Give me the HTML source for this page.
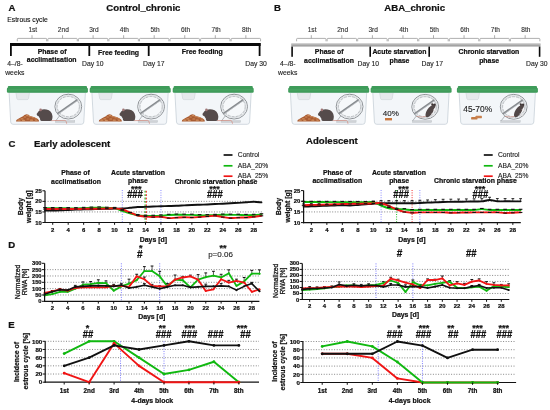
<!DOCTYPE html>
<html><head><meta charset="utf-8"><style>
html,body{margin:0;padding:0;background:#fff;width:550px;height:410px;overflow:hidden;}
svg{display:block;will-change:transform;}
</style></head><body>
<svg width="550" height="410" viewBox="0 0 550 410" font-family='"Liberation Sans", sans-serif'>
<rect width="550" height="410" fill="#fff"/>
<text x="8.60" y="10.90" font-size="9.6" font-weight="bold" text-anchor="start" fill="#111" stroke="#111" stroke-width="0.22" >A</text>
<text x="143.40" y="10.80" font-size="9.6" font-weight="bold" text-anchor="middle" fill="#111" stroke="#111" stroke-width="0.22" >Control_chronic</text>
<text x="274.00" y="10.80" font-size="9.6" font-weight="bold" text-anchor="start" fill="#111" stroke="#111" stroke-width="0.22" >B</text>
<text x="414.70" y="11.30" font-size="9.6" font-weight="bold" text-anchor="middle" fill="#111" stroke="#111" stroke-width="0.22" >ABA_chronic</text>
<text x="7.30" y="21.50" font-size="6.8" font-weight="normal" text-anchor="start" fill="#111" stroke="#111" stroke-width="0.12" >Estrous cycle</text>
<path d="M17.30,41.3 L17.30,39.2 Q17.30,38.4 18.10,38.4 L45.90,38.4 Q46.70,38.4 46.70,39.2 L46.70,41.3 M32.00,38.4 L32.00,35.2" fill="none" stroke="#9a9a9a" stroke-width="0.8"/>
<text x="32.80" y="32.00" font-size="6.6" font-weight="normal" text-anchor="middle" fill="#333" stroke="#333" stroke-width="0.12" >1st</text>
<path d="M47.85,41.3 L47.85,39.2 Q47.85,38.4 48.65,38.4 L76.45,38.4 Q77.25,38.4 77.25,39.2 L77.25,41.3 M62.55,38.4 L62.55,35.2" fill="none" stroke="#9a9a9a" stroke-width="0.8"/>
<text x="63.35" y="32.00" font-size="6.6" font-weight="normal" text-anchor="middle" fill="#333" stroke="#333" stroke-width="0.12" >2nd</text>
<path d="M78.40,41.3 L78.40,39.2 Q78.40,38.4 79.20,38.4 L107.00,38.4 Q107.80,38.4 107.80,39.2 L107.80,41.3 M93.10,38.4 L93.10,35.2" fill="none" stroke="#9a9a9a" stroke-width="0.8"/>
<text x="93.90" y="32.00" font-size="6.6" font-weight="normal" text-anchor="middle" fill="#333" stroke="#333" stroke-width="0.12" >3rd</text>
<path d="M108.95,41.3 L108.95,39.2 Q108.95,38.4 109.75,38.4 L137.55,38.4 Q138.35,38.4 138.35,39.2 L138.35,41.3 M123.65,38.4 L123.65,35.2" fill="none" stroke="#9a9a9a" stroke-width="0.8"/>
<text x="124.45" y="32.00" font-size="6.6" font-weight="normal" text-anchor="middle" fill="#333" stroke="#333" stroke-width="0.12" >4th</text>
<path d="M139.50,41.3 L139.50,39.2 Q139.50,38.4 140.30,38.4 L168.10,38.4 Q168.90,38.4 168.90,39.2 L168.90,41.3 M154.20,38.4 L154.20,35.2" fill="none" stroke="#9a9a9a" stroke-width="0.8"/>
<text x="155.00" y="32.00" font-size="6.6" font-weight="normal" text-anchor="middle" fill="#333" stroke="#333" stroke-width="0.12" >5th</text>
<path d="M170.05,41.3 L170.05,39.2 Q170.05,38.4 170.85,38.4 L198.65,38.4 Q199.45,38.4 199.45,39.2 L199.45,41.3 M184.75,38.4 L184.75,35.2" fill="none" stroke="#9a9a9a" stroke-width="0.8"/>
<text x="185.55" y="32.00" font-size="6.6" font-weight="normal" text-anchor="middle" fill="#333" stroke="#333" stroke-width="0.12" >6th</text>
<path d="M200.60,41.3 L200.60,39.2 Q200.60,38.4 201.40,38.4 L229.20,38.4 Q230.00,38.4 230.00,39.2 L230.00,41.3 M215.30,38.4 L215.30,35.2" fill="none" stroke="#9a9a9a" stroke-width="0.8"/>
<text x="216.10" y="32.00" font-size="6.6" font-weight="normal" text-anchor="middle" fill="#333" stroke="#333" stroke-width="0.12" >7th</text>
<path d="M231.15,41.3 L231.15,39.2 Q231.15,38.4 231.95,38.4 L259.75,38.4 Q260.55,38.4 260.55,39.2 L260.55,41.3 M245.85,38.4 L245.85,35.2" fill="none" stroke="#9a9a9a" stroke-width="0.8"/>
<text x="246.65" y="32.00" font-size="6.6" font-weight="normal" text-anchor="middle" fill="#333" stroke="#333" stroke-width="0.12" >8th</text>
<path d="M296.60,41.3 L296.60,39.2 Q296.60,38.4 297.40,38.4 L325.20,38.4 Q326.00,38.4 326.00,39.2 L326.00,41.3 M311.30,38.4 L311.30,35.2" fill="none" stroke="#9a9a9a" stroke-width="0.8"/>
<text x="312.10" y="32.00" font-size="6.6" font-weight="normal" text-anchor="middle" fill="#333" stroke="#333" stroke-width="0.12" >1st</text>
<path d="M327.15,41.3 L327.15,39.2 Q327.15,38.4 327.95,38.4 L355.75,38.4 Q356.55,38.4 356.55,39.2 L356.55,41.3 M341.85,38.4 L341.85,35.2" fill="none" stroke="#9a9a9a" stroke-width="0.8"/>
<text x="342.65" y="32.00" font-size="6.6" font-weight="normal" text-anchor="middle" fill="#333" stroke="#333" stroke-width="0.12" >2nd</text>
<path d="M357.70,41.3 L357.70,39.2 Q357.70,38.4 358.50,38.4 L386.30,38.4 Q387.10,38.4 387.10,39.2 L387.10,41.3 M372.40,38.4 L372.40,35.2" fill="none" stroke="#9a9a9a" stroke-width="0.8"/>
<text x="373.20" y="32.00" font-size="6.6" font-weight="normal" text-anchor="middle" fill="#333" stroke="#333" stroke-width="0.12" >3rd</text>
<path d="M388.25,41.3 L388.25,39.2 Q388.25,38.4 389.05,38.4 L416.85,38.4 Q417.65,38.4 417.65,39.2 L417.65,41.3 M402.95,38.4 L402.95,35.2" fill="none" stroke="#9a9a9a" stroke-width="0.8"/>
<text x="403.75" y="32.00" font-size="6.6" font-weight="normal" text-anchor="middle" fill="#333" stroke="#333" stroke-width="0.12" >4th</text>
<path d="M418.80,41.3 L418.80,39.2 Q418.80,38.4 419.60,38.4 L447.40,38.4 Q448.20,38.4 448.20,39.2 L448.20,41.3 M433.50,38.4 L433.50,35.2" fill="none" stroke="#9a9a9a" stroke-width="0.8"/>
<text x="434.30" y="32.00" font-size="6.6" font-weight="normal" text-anchor="middle" fill="#333" stroke="#333" stroke-width="0.12" >5th</text>
<path d="M449.35,41.3 L449.35,39.2 Q449.35,38.4 450.15,38.4 L477.95,38.4 Q478.75,38.4 478.75,39.2 L478.75,41.3 M464.05,38.4 L464.05,35.2" fill="none" stroke="#9a9a9a" stroke-width="0.8"/>
<text x="464.85" y="32.00" font-size="6.6" font-weight="normal" text-anchor="middle" fill="#333" stroke="#333" stroke-width="0.12" >6th</text>
<path d="M479.90,41.3 L479.90,39.2 Q479.90,38.4 480.70,38.4 L508.50,38.4 Q509.30,38.4 509.30,39.2 L509.30,41.3 M494.60,38.4 L494.60,35.2" fill="none" stroke="#9a9a9a" stroke-width="0.8"/>
<text x="495.40" y="32.00" font-size="6.6" font-weight="normal" text-anchor="middle" fill="#333" stroke="#333" stroke-width="0.12" >7th</text>
<path d="M510.45,41.3 L510.45,39.2 Q510.45,38.4 511.25,38.4 L539.05,38.4 Q539.85,38.4 539.85,39.2 L539.85,41.3 M525.15,38.4 L525.15,35.2" fill="none" stroke="#9a9a9a" stroke-width="0.8"/>
<text x="525.95" y="32.00" font-size="6.6" font-weight="normal" text-anchor="middle" fill="#333" stroke="#333" stroke-width="0.12" >8th</text>
<rect x="10" y="43" width="250.6" height="3" fill="#0a0a0a"/>
<rect x="10.00" y="43" width="1.8" height="13" fill="#0a0a0a"/>
<rect x="88.40" y="43" width="1.8" height="13" fill="#0a0a0a"/>
<rect x="147.80" y="43" width="1.8" height="13" fill="#0a0a0a"/>
<rect x="258.70" y="43" width="1.8" height="13" fill="#0a0a0a"/>
<rect x="291.3" y="43.6" width="249.2" height="3" fill="#a3a3a3"/>
<rect x="291.3" y="43.6" width="249.2" height="1" fill="#c4c4c4"/>
<rect x="291.30" y="46.6" width="1.6" height="10.2" fill="#0a0a0a"/>
<rect x="369.40" y="46.6" width="1.6" height="10.2" fill="#0a0a0a"/>
<rect x="428.40" y="46.6" width="1.6" height="10.2" fill="#0a0a0a"/>
<rect x="538.80" y="46.6" width="1.6" height="10.2" fill="#0a0a0a"/>
<text x="52.10" y="53.50" font-size="6.9" font-weight="bold" text-anchor="middle" fill="#111" stroke="#111" stroke-width="0.22" >Phase of</text>
<text x="51.70" y="62.10" font-size="6.9" font-weight="bold" text-anchor="middle" fill="#111" stroke="#111" stroke-width="0.22" >acclimatisation</text>
<text x="118.60" y="55.40" font-size="6.9" font-weight="bold" text-anchor="middle" fill="#111" stroke="#111" stroke-width="0.22" >Free feeding</text>
<text x="202.30" y="53.50" font-size="6.9" font-weight="bold" text-anchor="middle" fill="#111" stroke="#111" stroke-width="0.22" >Free feeding</text>
<text x="329.20" y="54.00" font-size="6.9" font-weight="bold" text-anchor="middle" fill="#111" stroke="#111" stroke-width="0.22" >Phase of</text>
<text x="329.00" y="62.70" font-size="6.9" font-weight="bold" text-anchor="middle" fill="#111" stroke="#111" stroke-width="0.22" >acclimatisation</text>
<text x="399.40" y="53.80" font-size="6.9" font-weight="bold" text-anchor="middle" fill="#111" stroke="#111" stroke-width="0.22" >Acute starvation</text>
<text x="399.50" y="62.70" font-size="6.9" font-weight="bold" text-anchor="middle" fill="#111" stroke="#111" stroke-width="0.22" >phase</text>
<text x="488.90" y="54.00" font-size="6.9" font-weight="bold" text-anchor="middle" fill="#111" stroke="#111" stroke-width="0.22" >Chronic starvation</text>
<text x="489.10" y="62.70" font-size="6.9" font-weight="bold" text-anchor="middle" fill="#111" stroke="#111" stroke-width="0.22" >phase</text>
<text x="7.20" y="66.00" font-size="6.8" font-weight="normal" text-anchor="start" fill="#222" stroke="#222" stroke-width="0.12" >4–/8-</text>
<text x="5.20" y="74.60" font-size="6.8" font-weight="normal" text-anchor="start" fill="#222" stroke="#222" stroke-width="0.12" >weeks</text>
<text x="280.10" y="66.00" font-size="6.8" font-weight="normal" text-anchor="start" fill="#222" stroke="#222" stroke-width="0.12" >4–/8-</text>
<text x="278.10" y="74.60" font-size="6.8" font-weight="normal" text-anchor="start" fill="#222" stroke="#222" stroke-width="0.12" >weeks</text>
<text x="82.00" y="66.20" font-size="6.8" font-weight="normal" text-anchor="start" fill="#222" stroke="#222" stroke-width="0.12" >Day 10</text>
<text x="143.10" y="66.20" font-size="6.8" font-weight="normal" text-anchor="start" fill="#222" stroke="#222" stroke-width="0.12" >Day 17</text>
<text x="245.30" y="66.20" font-size="6.8" font-weight="normal" text-anchor="start" fill="#222" stroke="#222" stroke-width="0.12" >Day 30</text>
<text x="357.50" y="66.20" font-size="6.8" font-weight="normal" text-anchor="start" fill="#222" stroke="#222" stroke-width="0.12" >Day 10</text>
<text x="421.60" y="66.20" font-size="6.8" font-weight="normal" text-anchor="start" fill="#222" stroke="#222" stroke-width="0.12" >Day 17</text>
<text x="526.00" y="66.20" font-size="6.8" font-weight="normal" text-anchor="start" fill="#222" stroke="#222" stroke-width="0.12" >Day 30</text>
<path d="M9.10,92.5 L10.70,122.0 Q10.90,124.3 13.10,124.3 L81.40,124.3 Q83.60,124.3 83.80,122.0 L85.40,92.5 Z" fill="#f3f6f9" stroke="#c8d1d8" stroke-width="0.8"/>
<path d="M15.90,92.6 L29.50,92.6 L28.50,98.6 Q28.20,99.6 27.10,99.6 L18.30,99.6 Q17.20,99.6 16.90,98.6 Z" fill="#e6e9ec" stroke="#cdd2d6" stroke-width="0.6"/>
<rect x="7.80" y="86.0" width="79.20" height="3" rx="1" fill="#3f9c5a"/>
<rect x="6.90" y="87.7" width="81.00" height="5.0" rx="1.2" fill="#3f9c5a"/>
<rect x="7.90" y="89.3" width="79.00" height="1.2" fill="#52ab6c" opacity="0.6"/>
<rect x="55.30" y="120.6" width="19.5" height="1.8" fill="#cfd3d6" stroke="#b9bec2" stroke-width="0.4"/>
<path d="M55.80,120.8 L61.30,113.5" stroke="#a9aeb2" stroke-width="0.9"/>
<ellipse cx="68.30" cy="106.60" rx="13.40" ry="12.40" fill="#f6f8fa" stroke="#8f9397" stroke-width="1.0"/>
<ellipse cx="68.30" cy="106.60" rx="12.00" ry="11.00" fill="none" stroke="#dfe2e5" stroke-width="1.2"/>
<ellipse cx="68.30" cy="106.60" rx="11.10" ry="10.10" fill="none" stroke="#a4a8ac" stroke-width="0.7" stroke-dasharray="3 1"/>
<line x1="57.50" y1="113.80" x2="77.50" y2="99.80" stroke="#85898d" stroke-width="1.9"/>
<line x1="57.90" y1="114.30" x2="77.90" y2="100.30" stroke="#d0d3d6" stroke-width="0.5"/>
<polygon points="16.00,121.60 16.40,119.90 18.80,118.60 21.00,117.30 23.00,116.30 24.40,114.90 26.50,114.20 28.60,114.80 30.00,116.00 32.00,116.50 34.50,117.30 37.00,118.60 38.80,120.00 39.00,121.60" fill="#a95c33"/>
<rect x="17.50" y="119.60" width="3" height="1.2" rx="0.5" fill="#d08e5c"/>
<rect x="20.50" y="118.20" width="3" height="1.2" rx="0.5" fill="#d08e5c"/>
<rect x="23.50" y="116.40" width="2.6" height="1.2" rx="0.5" fill="#d08e5c"/>
<rect x="26.00" y="115.00" width="2.6" height="1.2" rx="0.5" fill="#d08e5c"/>
<rect x="28.50" y="116.20" width="2.8" height="1.1" rx="0.5" fill="#d08e5c"/>
<rect x="31.50" y="117.20" width="3" height="1.1" rx="0.5" fill="#d08e5c"/>
<rect x="34.50" y="118.40" width="2.8" height="1.1" rx="0.5" fill="#d08e5c"/>
<rect x="22.00" y="119.80" width="3" height="1.1" rx="0.5" fill="#d08e5c"/>
<rect x="26.50" y="118.40" width="3" height="1.2" rx="0.5" fill="#d08e5c"/>
<rect x="30.00" y="119.60" width="3" height="1.1" rx="0.5" fill="#d08e5c"/>
<rect x="35.00" y="120.20" width="2.6" height="1" rx="0.5" fill="#d08e5c"/>
<path d="M50.90,120.6 L65.10,120.4 Q66.40,120.6 66.70,123.8" fill="none" stroke="#d28a7c" stroke-width="0.7"/>
<path d="M36.60,113.9 Q38.40,110.6 41.00,109.7 Q43.40,108.8 46.40,109.4 Q52.00,110.6 52.50,116.2 Q52.70,121.1 49.90,121.1 L41.40,121.1 Q39.80,120.6 40.00,118.4 Q39.00,117.2 38.60,116.2 Q36.60,115.7 36.60,113.9 Z" fill="#554b4b"/>
<circle cx="40.60" cy="109.90" r="1.3" fill="#a07676"/>
<path d="M91.90,92.5 L93.50,122.0 Q93.70,124.3 95.90,124.3 L164.20,124.3 Q166.40,124.3 166.60,122.0 L168.20,92.5 Z" fill="#f3f6f9" stroke="#c8d1d8" stroke-width="0.8"/>
<path d="M98.70,92.6 L112.30,92.6 L111.30,98.6 Q111.00,99.6 109.90,99.6 L101.10,99.6 Q100.00,99.6 99.70,98.6 Z" fill="#e6e9ec" stroke="#cdd2d6" stroke-width="0.6"/>
<rect x="90.60" y="86.0" width="79.20" height="3" rx="1" fill="#3f9c5a"/>
<rect x="89.70" y="87.7" width="81.00" height="5.0" rx="1.2" fill="#3f9c5a"/>
<rect x="90.70" y="89.3" width="79.00" height="1.2" fill="#52ab6c" opacity="0.6"/>
<rect x="138.10" y="120.6" width="19.5" height="1.8" fill="#cfd3d6" stroke="#b9bec2" stroke-width="0.4"/>
<path d="M138.60,120.8 L144.10,113.5" stroke="#a9aeb2" stroke-width="0.9"/>
<ellipse cx="151.10" cy="106.60" rx="13.40" ry="12.40" fill="#f6f8fa" stroke="#8f9397" stroke-width="1.0"/>
<ellipse cx="151.10" cy="106.60" rx="12.00" ry="11.00" fill="none" stroke="#dfe2e5" stroke-width="1.2"/>
<ellipse cx="151.10" cy="106.60" rx="11.10" ry="10.10" fill="none" stroke="#a4a8ac" stroke-width="0.7" stroke-dasharray="3 1"/>
<line x1="140.30" y1="113.80" x2="160.30" y2="99.80" stroke="#85898d" stroke-width="1.9"/>
<line x1="140.70" y1="114.30" x2="160.70" y2="100.30" stroke="#d0d3d6" stroke-width="0.5"/>
<polygon points="98.80,121.60 99.20,119.90 101.60,118.60 103.80,117.30 105.80,116.30 107.20,114.90 109.30,114.20 111.40,114.80 112.80,116.00 114.80,116.50 117.30,117.30 119.80,118.60 121.60,120.00 121.80,121.60" fill="#a95c33"/>
<rect x="100.30" y="119.60" width="3" height="1.2" rx="0.5" fill="#d08e5c"/>
<rect x="103.30" y="118.20" width="3" height="1.2" rx="0.5" fill="#d08e5c"/>
<rect x="106.30" y="116.40" width="2.6" height="1.2" rx="0.5" fill="#d08e5c"/>
<rect x="108.80" y="115.00" width="2.6" height="1.2" rx="0.5" fill="#d08e5c"/>
<rect x="111.30" y="116.20" width="2.8" height="1.1" rx="0.5" fill="#d08e5c"/>
<rect x="114.30" y="117.20" width="3" height="1.1" rx="0.5" fill="#d08e5c"/>
<rect x="117.30" y="118.40" width="2.8" height="1.1" rx="0.5" fill="#d08e5c"/>
<rect x="104.80" y="119.80" width="3" height="1.1" rx="0.5" fill="#d08e5c"/>
<rect x="109.30" y="118.40" width="3" height="1.2" rx="0.5" fill="#d08e5c"/>
<rect x="112.80" y="119.60" width="3" height="1.1" rx="0.5" fill="#d08e5c"/>
<rect x="117.80" y="120.20" width="2.6" height="1" rx="0.5" fill="#d08e5c"/>
<path d="M133.70,120.6 L147.90,120.4 Q149.20,120.6 149.50,123.8" fill="none" stroke="#d28a7c" stroke-width="0.7"/>
<path d="M119.40,113.9 Q121.20,110.6 123.80,109.7 Q126.20,108.8 129.20,109.4 Q134.80,110.6 135.30,116.2 Q135.50,121.1 132.70,121.1 L124.20,121.1 Q122.60,120.6 122.80,118.4 Q121.80,117.2 121.40,116.2 Q119.40,115.7 119.40,113.9 Z" fill="#554b4b"/>
<circle cx="123.40" cy="109.90" r="1.3" fill="#a07676"/>
<path d="M174.90,92.5 L176.50,122.0 Q176.70,124.3 178.90,124.3 L247.20,124.3 Q249.40,124.3 249.60,122.0 L251.20,92.5 Z" fill="#f3f6f9" stroke="#c8d1d8" stroke-width="0.8"/>
<path d="M181.70,92.6 L195.30,92.6 L194.30,98.6 Q194.00,99.6 192.90,99.6 L184.10,99.6 Q183.00,99.6 182.70,98.6 Z" fill="#e6e9ec" stroke="#cdd2d6" stroke-width="0.6"/>
<rect x="173.60" y="86.0" width="79.20" height="3" rx="1" fill="#3f9c5a"/>
<rect x="172.70" y="87.7" width="81.00" height="5.0" rx="1.2" fill="#3f9c5a"/>
<rect x="173.70" y="89.3" width="79.00" height="1.2" fill="#52ab6c" opacity="0.6"/>
<rect x="221.10" y="120.6" width="19.5" height="1.8" fill="#cfd3d6" stroke="#b9bec2" stroke-width="0.4"/>
<path d="M221.60,120.8 L227.10,113.5" stroke="#a9aeb2" stroke-width="0.9"/>
<ellipse cx="234.10" cy="106.60" rx="13.40" ry="12.40" fill="#f6f8fa" stroke="#8f9397" stroke-width="1.0"/>
<ellipse cx="234.10" cy="106.60" rx="12.00" ry="11.00" fill="none" stroke="#dfe2e5" stroke-width="1.2"/>
<ellipse cx="234.10" cy="106.60" rx="11.10" ry="10.10" fill="none" stroke="#a4a8ac" stroke-width="0.7" stroke-dasharray="3 1"/>
<line x1="223.30" y1="113.80" x2="243.30" y2="99.80" stroke="#85898d" stroke-width="1.9"/>
<line x1="223.70" y1="114.30" x2="243.70" y2="100.30" stroke="#d0d3d6" stroke-width="0.5"/>
<polygon points="181.80,121.60 182.20,119.90 184.60,118.60 186.80,117.30 188.80,116.30 190.20,114.90 192.30,114.20 194.40,114.80 195.80,116.00 197.80,116.50 200.30,117.30 202.80,118.60 204.60,120.00 204.80,121.60" fill="#a95c33"/>
<rect x="183.30" y="119.60" width="3" height="1.2" rx="0.5" fill="#d08e5c"/>
<rect x="186.30" y="118.20" width="3" height="1.2" rx="0.5" fill="#d08e5c"/>
<rect x="189.30" y="116.40" width="2.6" height="1.2" rx="0.5" fill="#d08e5c"/>
<rect x="191.80" y="115.00" width="2.6" height="1.2" rx="0.5" fill="#d08e5c"/>
<rect x="194.30" y="116.20" width="2.8" height="1.1" rx="0.5" fill="#d08e5c"/>
<rect x="197.30" y="117.20" width="3" height="1.1" rx="0.5" fill="#d08e5c"/>
<rect x="200.30" y="118.40" width="2.8" height="1.1" rx="0.5" fill="#d08e5c"/>
<rect x="187.80" y="119.80" width="3" height="1.1" rx="0.5" fill="#d08e5c"/>
<rect x="192.30" y="118.40" width="3" height="1.2" rx="0.5" fill="#d08e5c"/>
<rect x="195.80" y="119.60" width="3" height="1.1" rx="0.5" fill="#d08e5c"/>
<rect x="200.80" y="120.20" width="2.6" height="1" rx="0.5" fill="#d08e5c"/>
<path d="M216.70,120.6 L230.90,120.4 Q232.20,120.6 232.50,123.8" fill="none" stroke="#d28a7c" stroke-width="0.7"/>
<path d="M202.40,113.9 Q204.20,110.6 206.80,109.7 Q209.20,108.8 212.20,109.4 Q217.80,110.6 218.30,116.2 Q218.50,121.1 215.70,121.1 L207.20,121.1 Q205.60,120.6 205.80,118.4 Q204.80,117.2 204.40,116.2 Q202.40,115.7 202.40,113.9 Z" fill="#554b4b"/>
<circle cx="206.40" cy="109.90" r="1.3" fill="#a07676"/>
<path d="M290.40,92.5 L292.00,122.0 Q292.20,124.3 294.40,124.3 L362.70,124.3 Q364.90,124.3 365.10,122.0 L366.70,92.5 Z" fill="#f3f6f9" stroke="#c8d1d8" stroke-width="0.8"/>
<path d="M297.20,92.6 L310.80,92.6 L309.80,98.6 Q309.50,99.6 308.40,99.6 L299.60,99.6 Q298.50,99.6 298.20,98.6 Z" fill="#e6e9ec" stroke="#cdd2d6" stroke-width="0.6"/>
<rect x="289.10" y="86.0" width="79.20" height="3" rx="1" fill="#3f9c5a"/>
<rect x="288.20" y="87.7" width="81.00" height="5.0" rx="1.2" fill="#3f9c5a"/>
<rect x="289.20" y="89.3" width="79.00" height="1.2" fill="#52ab6c" opacity="0.6"/>
<rect x="336.60" y="120.6" width="19.5" height="1.8" fill="#cfd3d6" stroke="#b9bec2" stroke-width="0.4"/>
<path d="M337.10,120.8 L342.60,113.5" stroke="#a9aeb2" stroke-width="0.9"/>
<ellipse cx="349.60" cy="106.60" rx="13.40" ry="12.40" fill="#f6f8fa" stroke="#8f9397" stroke-width="1.0"/>
<ellipse cx="349.60" cy="106.60" rx="12.00" ry="11.00" fill="none" stroke="#dfe2e5" stroke-width="1.2"/>
<ellipse cx="349.60" cy="106.60" rx="11.10" ry="10.10" fill="none" stroke="#a4a8ac" stroke-width="0.7" stroke-dasharray="3 1"/>
<line x1="338.80" y1="113.80" x2="358.80" y2="99.80" stroke="#85898d" stroke-width="1.9"/>
<line x1="339.20" y1="114.30" x2="359.20" y2="100.30" stroke="#d0d3d6" stroke-width="0.5"/>
<polygon points="297.30,121.60 297.70,119.90 300.10,118.60 302.30,117.30 304.30,116.30 305.70,114.90 307.80,114.20 309.90,114.80 311.30,116.00 313.30,116.50 315.80,117.30 318.30,118.60 320.10,120.00 320.30,121.60" fill="#a95c33"/>
<rect x="298.80" y="119.60" width="3" height="1.2" rx="0.5" fill="#d08e5c"/>
<rect x="301.80" y="118.20" width="3" height="1.2" rx="0.5" fill="#d08e5c"/>
<rect x="304.80" y="116.40" width="2.6" height="1.2" rx="0.5" fill="#d08e5c"/>
<rect x="307.30" y="115.00" width="2.6" height="1.2" rx="0.5" fill="#d08e5c"/>
<rect x="309.80" y="116.20" width="2.8" height="1.1" rx="0.5" fill="#d08e5c"/>
<rect x="312.80" y="117.20" width="3" height="1.1" rx="0.5" fill="#d08e5c"/>
<rect x="315.80" y="118.40" width="2.8" height="1.1" rx="0.5" fill="#d08e5c"/>
<rect x="303.30" y="119.80" width="3" height="1.1" rx="0.5" fill="#d08e5c"/>
<rect x="307.80" y="118.40" width="3" height="1.2" rx="0.5" fill="#d08e5c"/>
<rect x="311.30" y="119.60" width="3" height="1.1" rx="0.5" fill="#d08e5c"/>
<rect x="316.30" y="120.20" width="2.6" height="1" rx="0.5" fill="#d08e5c"/>
<path d="M332.20,120.6 L346.40,120.4 Q347.70,120.6 348.00,123.8" fill="none" stroke="#d28a7c" stroke-width="0.7"/>
<path d="M317.90,113.9 Q319.70,110.6 322.30,109.7 Q324.70,108.8 327.70,109.4 Q333.30,110.6 333.80,116.2 Q334.00,121.1 331.20,121.1 L322.70,121.1 Q321.10,120.6 321.30,118.4 Q320.30,117.2 319.90,116.2 Q317.90,115.7 317.90,113.9 Z" fill="#554b4b"/>
<circle cx="321.90" cy="109.90" r="1.3" fill="#a07676"/>
<path d="M372.80,92.5 L374.40,122.0 Q374.60,124.3 376.80,124.3 L445.10,124.3 Q447.30,124.3 447.50,122.0 L449.10,92.5 Z" fill="#f3f6f9" stroke="#c8d1d8" stroke-width="0.8"/>
<path d="M379.60,92.6 L393.20,92.6 L392.20,98.6 Q391.90,99.6 390.80,99.6 L382.00,99.6 Q380.90,99.6 380.60,98.6 Z" fill="#e6e9ec" stroke="#cdd2d6" stroke-width="0.6"/>
<rect x="371.50" y="86.0" width="79.20" height="3" rx="1" fill="#3f9c5a"/>
<rect x="370.60" y="87.7" width="81.00" height="5.0" rx="1.2" fill="#3f9c5a"/>
<rect x="371.60" y="89.3" width="79.00" height="1.2" fill="#52ab6c" opacity="0.6"/>
<rect x="412.20" y="120.6" width="19.5" height="1.8" fill="#cfd3d6" stroke="#b9bec2" stroke-width="0.4"/>
<path d="M412.70,120.8 L418.20,113.5" stroke="#a9aeb2" stroke-width="0.9"/>
<ellipse cx="425.20" cy="106.80" rx="13.40" ry="12.40" fill="#f6f8fa" stroke="#8f9397" stroke-width="1.0"/>
<ellipse cx="425.20" cy="106.80" rx="12.00" ry="11.00" fill="none" stroke="#dfe2e5" stroke-width="1.2"/>
<ellipse cx="425.20" cy="106.80" rx="11.10" ry="10.10" fill="none" stroke="#a4a8ac" stroke-width="0.7" stroke-dasharray="3 1"/>
<line x1="414.40" y1="114.00" x2="434.40" y2="100.00" stroke="#85898d" stroke-width="1.9"/>
<line x1="414.80" y1="114.50" x2="434.80" y2="100.50" stroke="#d0d3d6" stroke-width="0.5"/>
<rect x="385.00" y="118.0" width="7.0" height="2.4" fill="#c8773e"/>
<text x="390.80" y="115.60" font-size="8.0" font-weight="normal" text-anchor="middle" fill="#222" stroke="#222" stroke-width="0.12" >40%</text>
<path d="M426.20,116.40 Q421.20,117.60 416.70,116.40" fill="none" stroke="#d28a7c" stroke-width="0.6"/>
<ellipse cx="429.80" cy="111.40" rx="6.6" ry="3.0" transform="rotate(-58 429.80 111.40)" fill="#524848"/>
<ellipse cx="433.40" cy="106.20" rx="2.0" ry="2.6" transform="rotate(30 433.40 106.20)" fill="#524848"/>
<circle cx="432.20" cy="104.20" r="1.0" fill="#3e3535"/>
<circle cx="434.80" cy="104.60" r="1.0" fill="#3e3535"/>
<path d="M433.20,109.80 L436.20,111.30 M431.20,113.80 L434.70,116.30" stroke="#e8e0e0" stroke-width="0.7"/>
<path d="M459.10,92.5 L460.70,122.0 Q460.90,124.3 463.10,124.3 L531.40,124.3 Q533.60,124.3 533.80,122.0 L535.40,92.5 Z" fill="#f3f6f9" stroke="#c8d1d8" stroke-width="0.8"/>
<path d="M465.90,92.6 L479.50,92.6 L478.50,98.6 Q478.20,99.6 477.10,99.6 L468.30,99.6 Q467.20,99.6 466.90,98.6 Z" fill="#e6e9ec" stroke="#cdd2d6" stroke-width="0.6"/>
<rect x="457.80" y="86.0" width="79.20" height="3" rx="1" fill="#3f9c5a"/>
<rect x="456.90" y="87.7" width="81.00" height="5.0" rx="1.2" fill="#3f9c5a"/>
<rect x="457.90" y="89.3" width="79.00" height="1.2" fill="#52ab6c" opacity="0.6"/>
<rect x="500.70" y="120.6" width="19.5" height="1.8" fill="#cfd3d6" stroke="#b9bec2" stroke-width="0.4"/>
<path d="M501.20,120.8 L506.70,113.5" stroke="#a9aeb2" stroke-width="0.9"/>
<ellipse cx="513.70" cy="106.80" rx="13.40" ry="12.40" fill="#f6f8fa" stroke="#8f9397" stroke-width="1.0"/>
<ellipse cx="513.70" cy="106.80" rx="12.00" ry="11.00" fill="none" stroke="#dfe2e5" stroke-width="1.2"/>
<ellipse cx="513.70" cy="106.80" rx="11.10" ry="10.10" fill="none" stroke="#a4a8ac" stroke-width="0.7" stroke-dasharray="3 1"/>
<line x1="502.90" y1="114.00" x2="522.90" y2="100.00" stroke="#85898d" stroke-width="1.9"/>
<line x1="503.30" y1="114.50" x2="523.30" y2="100.50" stroke="#d0d3d6" stroke-width="0.5"/>
<rect x="471.10" y="117.0" width="6.4" height="2.5" rx="0.4" fill="#c47a45"/>
<rect x="475.70" y="115.8" width="6.2" height="2.4" rx="0.4" fill="#c98250"/>
<text x="477.70" y="111.80" font-size="8.4" font-weight="normal" text-anchor="middle" fill="#222" stroke="#222" stroke-width="0.12" >45-70%</text>
<path d="M514.70,116.40 Q509.70,117.60 505.20,116.40" fill="none" stroke="#d28a7c" stroke-width="0.6"/>
<ellipse cx="518.30" cy="111.40" rx="6.6" ry="3.0" transform="rotate(-58 518.30 111.40)" fill="#524848"/>
<ellipse cx="521.90" cy="106.20" rx="2.0" ry="2.6" transform="rotate(30 521.90 106.20)" fill="#524848"/>
<circle cx="520.70" cy="104.20" r="1.0" fill="#3e3535"/>
<circle cx="523.30" cy="104.60" r="1.0" fill="#3e3535"/>
<path d="M521.70,109.80 L524.70,111.30 M519.70,113.80 L523.20,116.30" stroke="#e8e0e0" stroke-width="0.7"/>
<text x="8.50" y="147.00" font-size="9.6" font-weight="bold" text-anchor="start" fill="#111" stroke="#111" stroke-width="0.22" >C</text>
<text x="34.00" y="147.00" font-size="9.6" font-weight="bold" text-anchor="start" fill="#111" stroke="#111" stroke-width="0.22" >Early adolescent</text>
<text x="306.00" y="144.20" font-size="9.6" font-weight="bold" text-anchor="start" fill="#111" stroke="#111" stroke-width="0.22" >Adolescent</text>
<line x1="45.00" y1="201.37" x2="262.60" y2="201.37" stroke="#555" stroke-width="0.7" stroke-dasharray="1 1.6"/>
<line x1="45.00" y1="211.93" x2="262.60" y2="211.93" stroke="#555" stroke-width="0.7" stroke-dasharray="1 1.6"/>
<line x1="122.30" y1="190.00" x2="122.30" y2="222.50" stroke="#5a5aff" stroke-width="0.7" stroke-dasharray="1 1.4"/>
<line x1="145.09" y1="190.80" x2="145.09" y2="222.50" stroke="#10b810" stroke-width="1.1" stroke-dasharray="1.8 1.6"/>
<line x1="146.29" y1="190.80" x2="146.29" y2="222.50" stroke="#f01414" stroke-width="1.0" stroke-dasharray="1.8 1.6"/>
<line x1="160.95" y1="190.00" x2="160.95" y2="222.50" stroke="#5a5aff" stroke-width="0.7" stroke-dasharray="1 1.4"/>
<path d="M45.00,210.67 C46.29,210.64 50.15,210.56 52.73,210.51 C55.31,210.45 57.88,210.44 60.46,210.35 C63.04,210.26 65.61,210.10 68.19,209.98 C70.77,209.86 73.34,209.71 75.92,209.61 C78.50,209.51 81.07,209.47 83.65,209.40 C86.23,209.33 88.80,209.26 91.38,209.19 C93.96,209.12 96.53,209.05 99.11,208.97 C101.69,208.90 104.26,208.82 106.84,208.76 C109.42,208.71 111.99,208.69 114.57,208.66 C117.15,208.62 119.72,208.69 122.30,208.55 C124.88,208.41 127.45,208.06 130.03,207.81 C132.61,207.57 135.18,207.23 137.76,207.07 C140.34,206.91 142.91,206.95 145.49,206.86 C148.07,206.77 150.64,206.65 153.22,206.54 C155.80,206.44 158.37,206.32 160.95,206.23 C163.53,206.14 166.10,206.09 168.68,206.02 C171.26,205.95 173.83,205.91 176.41,205.80 C178.99,205.70 181.56,205.52 184.14,205.38 C186.72,205.24 189.29,205.07 191.87,204.96 C194.45,204.84 197.02,204.78 199.60,204.70 C202.18,204.61 204.75,204.54 207.33,204.43 C209.91,204.33 212.48,204.18 215.06,204.06 C217.64,203.94 220.21,203.82 222.79,203.69 C225.37,203.56 227.94,203.41 230.52,203.27 C233.10,203.13 235.67,203.00 238.25,202.85 C240.83,202.69 243.40,202.49 245.98,202.32 C248.56,202.14 251.13,201.77 253.71,201.79 C256.29,201.81 260.15,202.32 261.44,202.42" fill="none" stroke="#111" stroke-width="1.9" stroke-linejoin="round" stroke-linecap="round" />
<path d="M45.00,208.24 C46.29,208.24 50.15,208.25 52.73,208.26 C55.31,208.27 57.88,208.28 60.46,208.29 C63.04,208.30 65.61,208.31 68.19,208.31 C70.77,208.32 73.34,208.38 75.92,208.34 C78.50,208.30 81.07,208.16 83.65,208.08 C86.23,207.99 88.80,207.89 91.38,207.81 C93.96,207.73 96.53,207.58 99.11,207.60 C101.69,207.62 104.26,207.83 106.84,207.92 C109.42,208.01 111.99,207.64 114.57,208.13 C117.15,208.62 119.72,210.01 122.30,210.88 C124.88,211.74 127.45,212.58 130.03,213.31 C132.61,214.03 135.18,214.77 137.76,215.21 C140.34,215.65 142.91,215.83 145.49,215.95 C148.07,216.07 150.64,216.00 153.22,215.95 C155.80,215.90 158.37,215.79 160.95,215.63 C163.53,215.47 166.10,215.14 168.68,215.00 C171.26,214.86 173.83,214.81 176.41,214.79 C178.99,214.76 181.56,214.82 184.14,214.84 C186.72,214.86 189.29,214.81 191.87,214.89 C194.45,214.97 197.02,215.24 199.60,215.31 C202.18,215.39 204.75,215.36 207.33,215.31 C209.91,215.27 212.48,215.14 215.06,215.05 C217.64,214.96 220.21,214.82 222.79,214.79 C225.37,214.75 227.94,214.82 230.52,214.84 C233.10,214.86 235.67,214.85 238.25,214.89 C240.83,214.94 243.40,215.09 245.98,215.10 C248.56,215.12 251.13,215.10 253.71,215.00 C256.29,214.89 260.15,214.56 261.44,214.47" fill="none" stroke="#10b810" stroke-width="1.9" stroke-linejoin="round" stroke-linecap="round" />
<path d="M45.00,208.97 C46.29,208.97 50.15,208.97 52.73,208.97 C55.31,208.97 57.88,208.97 60.46,208.97 C63.04,208.97 65.61,208.97 68.19,208.97 C70.77,208.97 73.34,208.99 75.92,208.97 C78.50,208.96 81.07,208.90 83.65,208.87 C86.23,208.83 88.80,208.80 91.38,208.76 C93.96,208.73 96.53,208.69 99.11,208.66 C101.69,208.62 104.26,208.60 106.84,208.55 C109.42,208.50 111.99,208.18 114.57,208.34 C117.15,208.50 119.72,208.83 122.30,209.50 C124.88,210.17 127.45,211.35 130.03,212.36 C132.61,213.36 135.18,214.82 137.76,215.53 C140.34,216.23 142.91,216.34 145.49,216.58 C148.07,216.83 150.64,216.97 153.22,217.01 C155.80,217.04 158.37,216.62 160.95,216.79 C163.53,216.97 166.10,217.92 168.68,218.06 C171.26,218.20 173.83,217.78 176.41,217.64 C178.99,217.50 181.56,217.25 184.14,217.22 C186.72,217.18 189.29,217.46 191.87,217.43 C194.45,217.39 197.02,217.18 199.60,217.01 C202.18,216.83 204.75,216.58 207.33,216.37 C209.91,216.16 212.48,215.63 215.06,215.74 C217.64,215.84 220.21,216.62 222.79,217.01 C225.37,217.39 227.94,217.96 230.52,218.06 C233.10,218.17 235.67,217.75 238.25,217.64 C240.83,217.53 243.40,217.57 245.98,217.43 C248.56,217.29 251.13,217.08 253.71,216.79 C256.29,216.51 260.15,215.91 261.44,215.74" fill="none" stroke="#f01414" stroke-width="1.9" stroke-linejoin="round" stroke-linecap="round" />
<line x1="43.20" y1="207.54" x2="46.80" y2="207.54" stroke="#111" stroke-width="1.1" />
<line x1="50.93" y1="207.56" x2="54.53" y2="207.56" stroke="#111" stroke-width="1.1" />
<line x1="58.66" y1="207.59" x2="62.26" y2="207.59" stroke="#111" stroke-width="1.1" />
<line x1="66.39" y1="207.61" x2="69.99" y2="207.61" stroke="#111" stroke-width="1.1" />
<line x1="74.12" y1="207.64" x2="77.72" y2="207.64" stroke="#111" stroke-width="1.1" />
<line x1="81.85" y1="207.38" x2="85.45" y2="207.38" stroke="#111" stroke-width="1.1" />
<line x1="89.58" y1="207.11" x2="93.18" y2="207.11" stroke="#111" stroke-width="1.1" />
<line x1="97.31" y1="206.90" x2="100.91" y2="206.90" stroke="#111" stroke-width="1.1" />
<line x1="105.04" y1="207.22" x2="108.64" y2="207.22" stroke="#111" stroke-width="1.1" />
<line x1="112.77" y1="207.43" x2="116.37" y2="207.43" stroke="#111" stroke-width="1.1" />
<line x1="120.50" y1="210.18" x2="124.10" y2="210.18" stroke="#111" stroke-width="1.1" />
<line x1="128.23" y1="212.61" x2="131.83" y2="212.61" stroke="#111" stroke-width="1.1" />
<line x1="135.96" y1="214.51" x2="139.56" y2="214.51" stroke="#111" stroke-width="1.1" />
<line x1="143.69" y1="215.25" x2="147.29" y2="215.25" stroke="#111" stroke-width="1.1" />
<line x1="151.42" y1="215.25" x2="155.02" y2="215.25" stroke="#111" stroke-width="1.1" />
<line x1="159.15" y1="214.93" x2="162.75" y2="214.93" stroke="#111" stroke-width="1.1" />
<line x1="166.88" y1="214.30" x2="170.48" y2="214.30" stroke="#111" stroke-width="1.1" />
<line x1="174.61" y1="214.09" x2="178.21" y2="214.09" stroke="#111" stroke-width="1.1" />
<line x1="182.34" y1="214.14" x2="185.94" y2="214.14" stroke="#111" stroke-width="1.1" />
<line x1="190.07" y1="214.19" x2="193.67" y2="214.19" stroke="#111" stroke-width="1.1" />
<line x1="197.80" y1="214.61" x2="201.40" y2="214.61" stroke="#111" stroke-width="1.1" />
<line x1="205.53" y1="214.61" x2="209.13" y2="214.61" stroke="#111" stroke-width="1.1" />
<line x1="213.26" y1="214.35" x2="216.86" y2="214.35" stroke="#111" stroke-width="1.1" />
<line x1="220.99" y1="214.09" x2="224.59" y2="214.09" stroke="#111" stroke-width="1.1" />
<line x1="228.72" y1="214.14" x2="232.32" y2="214.14" stroke="#111" stroke-width="1.1" />
<line x1="236.45" y1="214.19" x2="240.05" y2="214.19" stroke="#111" stroke-width="1.1" />
<line x1="244.18" y1="214.40" x2="247.78" y2="214.40" stroke="#111" stroke-width="1.1" />
<line x1="251.91" y1="214.30" x2="255.51" y2="214.30" stroke="#111" stroke-width="1.1" />
<line x1="259.64" y1="213.77" x2="263.24" y2="213.77" stroke="#111" stroke-width="1.1" />
<line x1="43.20" y1="209.07" x2="46.80" y2="209.07" stroke="#111" stroke-width="1.0" />
<line x1="50.93" y1="209.07" x2="54.53" y2="209.07" stroke="#111" stroke-width="1.0" />
<line x1="58.66" y1="209.07" x2="62.26" y2="209.07" stroke="#111" stroke-width="1.0" />
<line x1="66.39" y1="209.07" x2="69.99" y2="209.07" stroke="#111" stroke-width="1.0" />
<line x1="74.12" y1="209.07" x2="77.72" y2="209.07" stroke="#111" stroke-width="1.0" />
<line x1="81.85" y1="208.97" x2="85.45" y2="208.97" stroke="#111" stroke-width="1.0" />
<line x1="89.58" y1="208.86" x2="93.18" y2="208.86" stroke="#111" stroke-width="1.0" />
<line x1="97.31" y1="208.76" x2="100.91" y2="208.76" stroke="#111" stroke-width="1.0" />
<line x1="105.04" y1="208.65" x2="108.64" y2="208.65" stroke="#111" stroke-width="1.0" />
<line x1="112.77" y1="208.44" x2="116.37" y2="208.44" stroke="#111" stroke-width="1.0" />
<line x1="120.50" y1="209.60" x2="124.10" y2="209.60" stroke="#111" stroke-width="1.0" />
<line x1="128.23" y1="212.46" x2="131.83" y2="212.46" stroke="#111" stroke-width="1.0" />
<line x1="135.96" y1="215.63" x2="139.56" y2="215.63" stroke="#111" stroke-width="1.0" />
<line x1="143.69" y1="216.68" x2="147.29" y2="216.68" stroke="#111" stroke-width="1.0" />
<line x1="151.42" y1="217.11" x2="155.02" y2="217.11" stroke="#111" stroke-width="1.0" />
<line x1="159.15" y1="216.89" x2="162.75" y2="216.89" stroke="#111" stroke-width="1.0" />
<line x1="166.88" y1="218.16" x2="170.48" y2="218.16" stroke="#111" stroke-width="1.0" />
<line x1="174.61" y1="217.74" x2="178.21" y2="217.74" stroke="#111" stroke-width="1.0" />
<line x1="182.34" y1="217.32" x2="185.94" y2="217.32" stroke="#111" stroke-width="1.0" />
<line x1="190.07" y1="217.53" x2="193.67" y2="217.53" stroke="#111" stroke-width="1.0" />
<line x1="197.80" y1="217.11" x2="201.40" y2="217.11" stroke="#111" stroke-width="1.0" />
<line x1="205.53" y1="216.47" x2="209.13" y2="216.47" stroke="#111" stroke-width="1.0" />
<line x1="213.26" y1="215.84" x2="216.86" y2="215.84" stroke="#111" stroke-width="1.0" />
<line x1="220.99" y1="217.11" x2="224.59" y2="217.11" stroke="#111" stroke-width="1.0" />
<line x1="228.72" y1="218.16" x2="232.32" y2="218.16" stroke="#111" stroke-width="1.0" />
<line x1="236.45" y1="217.74" x2="240.05" y2="217.74" stroke="#111" stroke-width="1.0" />
<line x1="244.18" y1="217.53" x2="247.78" y2="217.53" stroke="#111" stroke-width="1.0" />
<line x1="251.91" y1="216.89" x2="255.51" y2="216.89" stroke="#111" stroke-width="1.0" />
<line x1="259.64" y1="215.84" x2="263.24" y2="215.84" stroke="#111" stroke-width="1.0" />
<line x1="45.00" y1="190.80" x2="45.00" y2="223.10" stroke="#111" stroke-width="1.2" />
<line x1="44.40" y1="222.50" x2="262.60" y2="222.50" stroke="#111" stroke-width="1.2" />
<line x1="42.40" y1="222.50" x2="45.00" y2="222.50" stroke="#111" stroke-width="1.0" />
<line x1="42.40" y1="211.93" x2="45.00" y2="211.93" stroke="#111" stroke-width="1.0" />
<line x1="42.40" y1="201.37" x2="45.00" y2="201.37" stroke="#111" stroke-width="1.0" />
<line x1="42.40" y1="190.80" x2="45.00" y2="190.80" stroke="#111" stroke-width="1.0" />
<line x1="52.73" y1="222.50" x2="52.73" y2="224.80" stroke="#111" stroke-width="1.0" />
<text x="52.73" y="231.70" font-size="5.9" font-weight="bold" text-anchor="middle" fill="#111" stroke="#111" stroke-width="0.22" >2</text>
<line x1="68.19" y1="222.50" x2="68.19" y2="224.80" stroke="#111" stroke-width="1.0" />
<text x="68.19" y="231.70" font-size="5.9" font-weight="bold" text-anchor="middle" fill="#111" stroke="#111" stroke-width="0.22" >4</text>
<line x1="83.65" y1="222.50" x2="83.65" y2="224.80" stroke="#111" stroke-width="1.0" />
<text x="83.65" y="231.70" font-size="5.9" font-weight="bold" text-anchor="middle" fill="#111" stroke="#111" stroke-width="0.22" >6</text>
<line x1="99.11" y1="222.50" x2="99.11" y2="224.80" stroke="#111" stroke-width="1.0" />
<text x="99.11" y="231.70" font-size="5.9" font-weight="bold" text-anchor="middle" fill="#111" stroke="#111" stroke-width="0.22" >8</text>
<line x1="114.57" y1="222.50" x2="114.57" y2="224.80" stroke="#111" stroke-width="1.0" />
<text x="114.57" y="231.70" font-size="5.9" font-weight="bold" text-anchor="middle" fill="#111" stroke="#111" stroke-width="0.22" >10</text>
<line x1="130.03" y1="222.50" x2="130.03" y2="224.80" stroke="#111" stroke-width="1.0" />
<text x="130.03" y="231.70" font-size="5.9" font-weight="bold" text-anchor="middle" fill="#111" stroke="#111" stroke-width="0.22" >12</text>
<line x1="145.49" y1="222.50" x2="145.49" y2="224.80" stroke="#111" stroke-width="1.0" />
<text x="145.49" y="231.70" font-size="5.9" font-weight="bold" text-anchor="middle" fill="#111" stroke="#111" stroke-width="0.22" >14</text>
<line x1="160.95" y1="222.50" x2="160.95" y2="224.80" stroke="#111" stroke-width="1.0" />
<text x="160.95" y="231.70" font-size="5.9" font-weight="bold" text-anchor="middle" fill="#111" stroke="#111" stroke-width="0.22" >16</text>
<line x1="176.41" y1="222.50" x2="176.41" y2="224.80" stroke="#111" stroke-width="1.0" />
<text x="176.41" y="231.70" font-size="5.9" font-weight="bold" text-anchor="middle" fill="#111" stroke="#111" stroke-width="0.22" >18</text>
<line x1="191.87" y1="222.50" x2="191.87" y2="224.80" stroke="#111" stroke-width="1.0" />
<text x="191.87" y="231.70" font-size="5.9" font-weight="bold" text-anchor="middle" fill="#111" stroke="#111" stroke-width="0.22" >20</text>
<line x1="207.33" y1="222.50" x2="207.33" y2="224.80" stroke="#111" stroke-width="1.0" />
<text x="207.33" y="231.70" font-size="5.9" font-weight="bold" text-anchor="middle" fill="#111" stroke="#111" stroke-width="0.22" >22</text>
<line x1="222.79" y1="222.50" x2="222.79" y2="224.80" stroke="#111" stroke-width="1.0" />
<text x="222.79" y="231.70" font-size="5.9" font-weight="bold" text-anchor="middle" fill="#111" stroke="#111" stroke-width="0.22" >24</text>
<line x1="238.25" y1="222.50" x2="238.25" y2="224.80" stroke="#111" stroke-width="1.0" />
<text x="238.25" y="231.70" font-size="5.9" font-weight="bold" text-anchor="middle" fill="#111" stroke="#111" stroke-width="0.22" >26</text>
<line x1="253.71" y1="222.50" x2="253.71" y2="224.80" stroke="#111" stroke-width="1.0" />
<text x="253.71" y="231.70" font-size="5.9" font-weight="bold" text-anchor="middle" fill="#111" stroke="#111" stroke-width="0.22" >28</text>
<text x="41.80" y="224.60" font-size="5.9" font-weight="bold" text-anchor="end" fill="#111" stroke="#111" stroke-width="0.22" >10</text>
<text x="41.80" y="214.03" font-size="5.9" font-weight="bold" text-anchor="end" fill="#111" stroke="#111" stroke-width="0.22" >15</text>
<text x="41.80" y="203.47" font-size="5.9" font-weight="bold" text-anchor="end" fill="#111" stroke="#111" stroke-width="0.22" >20</text>
<text x="41.80" y="192.90" font-size="5.9" font-weight="bold" text-anchor="end" fill="#111" stroke="#111" stroke-width="0.22" >25</text>
<line x1="223.60" y1="155.00" x2="232.50" y2="155.00" stroke="#111" stroke-width="1.7" />
<text x="237.80" y="157.20" font-size="6.7" font-weight="normal" text-anchor="start" fill="#222" stroke="#222" stroke-width="0.12" >Control</text>
<line x1="223.60" y1="165.80" x2="232.50" y2="165.80" stroke="#10b810" stroke-width="1.7" />
<text x="237.80" y="168.00" font-size="6.7" font-weight="normal" text-anchor="start" fill="#222" stroke="#222" stroke-width="0.12" >ABA_20%</text>
<line x1="223.60" y1="176.20" x2="232.50" y2="176.20" stroke="#f01414" stroke-width="1.7" />
<text x="237.80" y="178.40" font-size="6.7" font-weight="normal" text-anchor="start" fill="#222" stroke="#222" stroke-width="0.12" >ABA_25%</text>
<text x="75.50" y="174.50" font-size="6.9" font-weight="bold" text-anchor="middle" fill="#111" stroke="#111" stroke-width="0.22" >Phase of</text>
<text x="76.00" y="183.50" font-size="6.9" font-weight="bold" text-anchor="middle" fill="#111" stroke="#111" stroke-width="0.22" >acclimatisation</text>
<text x="138.00" y="174.60" font-size="6.9" font-weight="bold" text-anchor="middle" fill="#111" stroke="#111" stroke-width="0.22" >Acute starvation</text>
<text x="138.00" y="183.30" font-size="6.9" font-weight="bold" text-anchor="middle" fill="#111" stroke="#111" stroke-width="0.22" >phase</text>
<text x="216.00" y="183.60" font-size="6.9" font-weight="bold" text-anchor="middle" fill="#111" stroke="#111" stroke-width="0.22" >Chronic starvation phase</text>
<text x="136.30" y="191.60" font-size="9.0" font-weight="bold" text-anchor="middle" fill="#111" stroke="#111" stroke-width="0.22" >***</text>
<text x="135.00" y="197.70" font-size="10.0" font-weight="bold" text-anchor="middle" fill="#111" stroke="#111" stroke-width="0.22"  textLength="15.75" lengthAdjust="spacingAndGlyphs">###</text>
<text x="214.50" y="191.80" font-size="9.0" font-weight="bold" text-anchor="middle" fill="#111" stroke="#111" stroke-width="0.22" >***</text>
<text x="214.80" y="198.40" font-size="10.0" font-weight="bold" text-anchor="middle" fill="#111" stroke="#111" stroke-width="0.22"  textLength="15.75" lengthAdjust="spacingAndGlyphs">###</text>
<line x1="303.60" y1="201.27" x2="520.80" y2="201.27" stroke="#555" stroke-width="0.7" stroke-dasharray="1 1.6"/>
<line x1="303.60" y1="211.93" x2="520.80" y2="211.93" stroke="#555" stroke-width="0.7" stroke-dasharray="1 1.6"/>
<line x1="381.10" y1="190.00" x2="381.10" y2="222.60" stroke="#5a5aff" stroke-width="0.7" stroke-dasharray="1 1.4"/>
<line x1="396.60" y1="190.00" x2="396.60" y2="222.60" stroke="#10b810" stroke-width="0.9" stroke-dasharray="1 1.4"/>
<line x1="412.10" y1="190.00" x2="412.10" y2="222.60" stroke="#f01414" stroke-width="0.9" stroke-dasharray="1 1.4"/>
<line x1="419.85" y1="190.00" x2="419.85" y2="222.60" stroke="#5a5aff" stroke-width="0.7" stroke-dasharray="1 1.4"/>
<line x1="303.60" y1="206.60" x2="303.60" y2="203.90" stroke="#111" stroke-width="0.7" />
<line x1="302.20" y1="203.90" x2="305.00" y2="203.90" stroke="#111" stroke-width="0.9" />
<line x1="311.35" y1="206.32" x2="311.35" y2="203.62" stroke="#111" stroke-width="0.7" />
<line x1="309.95" y1="203.62" x2="312.75" y2="203.62" stroke="#111" stroke-width="0.9" />
<line x1="319.10" y1="206.05" x2="319.10" y2="203.35" stroke="#111" stroke-width="0.7" />
<line x1="317.70" y1="203.35" x2="320.50" y2="203.35" stroke="#111" stroke-width="0.9" />
<line x1="326.85" y1="205.77" x2="326.85" y2="203.07" stroke="#111" stroke-width="0.7" />
<line x1="325.45" y1="203.07" x2="328.25" y2="203.07" stroke="#111" stroke-width="0.9" />
<line x1="334.60" y1="205.49" x2="334.60" y2="202.79" stroke="#111" stroke-width="0.7" />
<line x1="333.20" y1="202.79" x2="336.00" y2="202.79" stroke="#111" stroke-width="0.9" />
<line x1="342.35" y1="205.21" x2="342.35" y2="202.51" stroke="#111" stroke-width="0.7" />
<line x1="340.95" y1="202.51" x2="343.75" y2="202.51" stroke="#111" stroke-width="0.9" />
<line x1="350.10" y1="205.53" x2="350.10" y2="202.83" stroke="#111" stroke-width="0.7" />
<line x1="348.70" y1="202.83" x2="351.50" y2="202.83" stroke="#111" stroke-width="0.9" />
<line x1="357.85" y1="204.93" x2="357.85" y2="202.23" stroke="#111" stroke-width="0.7" />
<line x1="356.45" y1="202.23" x2="359.25" y2="202.23" stroke="#111" stroke-width="0.9" />
<line x1="365.60" y1="204.32" x2="365.60" y2="201.62" stroke="#111" stroke-width="0.7" />
<line x1="364.20" y1="201.62" x2="367.00" y2="201.62" stroke="#111" stroke-width="0.9" />
<line x1="373.35" y1="203.72" x2="373.35" y2="201.02" stroke="#111" stroke-width="0.7" />
<line x1="371.95" y1="201.02" x2="374.75" y2="201.02" stroke="#111" stroke-width="0.9" />
<line x1="381.10" y1="203.29" x2="381.10" y2="200.59" stroke="#111" stroke-width="0.7" />
<line x1="379.70" y1="200.59" x2="382.50" y2="200.59" stroke="#111" stroke-width="0.9" />
<line x1="388.85" y1="203.29" x2="388.85" y2="200.59" stroke="#111" stroke-width="0.7" />
<line x1="387.45" y1="200.59" x2="390.25" y2="200.59" stroke="#111" stroke-width="0.9" />
<line x1="396.60" y1="203.29" x2="396.60" y2="200.59" stroke="#111" stroke-width="0.7" />
<line x1="395.20" y1="200.59" x2="398.00" y2="200.59" stroke="#111" stroke-width="0.9" />
<line x1="404.35" y1="203.29" x2="404.35" y2="200.59" stroke="#111" stroke-width="0.7" />
<line x1="402.95" y1="200.59" x2="405.75" y2="200.59" stroke="#111" stroke-width="0.9" />
<line x1="412.10" y1="203.29" x2="412.10" y2="200.59" stroke="#111" stroke-width="0.7" />
<line x1="410.70" y1="200.59" x2="413.50" y2="200.59" stroke="#111" stroke-width="0.9" />
<line x1="419.85" y1="202.97" x2="419.85" y2="200.27" stroke="#111" stroke-width="0.7" />
<line x1="418.45" y1="200.27" x2="421.25" y2="200.27" stroke="#111" stroke-width="0.9" />
<line x1="427.60" y1="202.65" x2="427.60" y2="199.95" stroke="#111" stroke-width="0.7" />
<line x1="426.20" y1="199.95" x2="429.00" y2="199.95" stroke="#111" stroke-width="0.9" />
<line x1="435.35" y1="202.33" x2="435.35" y2="199.63" stroke="#111" stroke-width="0.7" />
<line x1="433.95" y1="199.63" x2="436.75" y2="199.63" stroke="#111" stroke-width="0.9" />
<line x1="443.10" y1="202.01" x2="443.10" y2="199.31" stroke="#111" stroke-width="0.7" />
<line x1="441.70" y1="199.31" x2="444.50" y2="199.31" stroke="#111" stroke-width="0.9" />
<line x1="450.85" y1="201.89" x2="450.85" y2="199.19" stroke="#111" stroke-width="0.7" />
<line x1="449.45" y1="199.19" x2="452.25" y2="199.19" stroke="#111" stroke-width="0.9" />
<line x1="458.60" y1="201.76" x2="458.60" y2="199.06" stroke="#111" stroke-width="0.7" />
<line x1="457.20" y1="199.06" x2="460.00" y2="199.06" stroke="#111" stroke-width="0.9" />
<line x1="466.35" y1="201.63" x2="466.35" y2="198.93" stroke="#111" stroke-width="0.7" />
<line x1="464.95" y1="198.93" x2="467.75" y2="198.93" stroke="#111" stroke-width="0.9" />
<line x1="474.10" y1="201.50" x2="474.10" y2="198.80" stroke="#111" stroke-width="0.7" />
<line x1="472.70" y1="198.80" x2="475.50" y2="198.80" stroke="#111" stroke-width="0.9" />
<line x1="481.85" y1="201.37" x2="481.85" y2="198.67" stroke="#111" stroke-width="0.7" />
<line x1="480.45" y1="198.67" x2="483.25" y2="198.67" stroke="#111" stroke-width="0.9" />
<line x1="489.60" y1="199.99" x2="489.60" y2="197.29" stroke="#111" stroke-width="0.7" />
<line x1="488.20" y1="197.29" x2="491.00" y2="197.29" stroke="#111" stroke-width="0.9" />
<line x1="497.35" y1="201.27" x2="497.35" y2="198.57" stroke="#111" stroke-width="0.7" />
<line x1="495.95" y1="198.57" x2="498.75" y2="198.57" stroke="#111" stroke-width="0.9" />
<line x1="505.10" y1="201.30" x2="505.10" y2="198.60" stroke="#111" stroke-width="0.7" />
<line x1="503.70" y1="198.60" x2="506.50" y2="198.60" stroke="#111" stroke-width="0.9" />
<line x1="512.85" y1="201.34" x2="512.85" y2="198.64" stroke="#111" stroke-width="0.7" />
<line x1="511.45" y1="198.64" x2="514.25" y2="198.64" stroke="#111" stroke-width="0.9" />
<line x1="520.60" y1="201.37" x2="520.60" y2="198.67" stroke="#111" stroke-width="0.7" />
<line x1="519.20" y1="198.67" x2="522.00" y2="198.67" stroke="#111" stroke-width="0.9" />
<path d="M303.60,206.60 C304.89,206.55 308.77,206.42 311.35,206.32 C313.93,206.23 316.52,206.14 319.10,206.05 C321.68,205.95 324.27,205.86 326.85,205.77 C329.43,205.68 332.02,205.58 334.60,205.49 C337.18,205.40 339.77,205.21 342.35,205.21 C344.93,205.22 347.52,205.58 350.10,205.53 C352.68,205.49 355.27,205.13 357.85,204.93 C360.43,204.73 363.02,204.53 365.60,204.32 C368.18,204.12 370.77,203.89 373.35,203.72 C375.93,203.55 378.52,203.36 381.10,203.29 C383.68,203.22 386.27,203.29 388.85,203.29 C391.43,203.29 394.02,203.29 396.60,203.29 C399.18,203.29 401.77,203.29 404.35,203.29 C406.93,203.29 409.52,203.35 412.10,203.29 C414.68,203.24 417.27,203.08 419.85,202.97 C422.43,202.87 425.02,202.76 427.60,202.65 C430.18,202.55 432.77,202.44 435.35,202.33 C437.93,202.23 440.52,202.09 443.10,202.01 C445.68,201.94 448.27,201.93 450.85,201.89 C453.43,201.84 456.02,201.80 458.60,201.76 C461.18,201.71 463.77,201.67 466.35,201.63 C468.93,201.59 471.52,201.54 474.10,201.50 C476.68,201.46 479.27,201.63 481.85,201.37 C484.43,201.12 487.02,200.00 489.60,199.99 C492.18,199.97 494.77,201.05 497.35,201.27 C499.93,201.49 502.52,201.29 505.10,201.30 C507.68,201.31 510.27,201.33 512.85,201.34 C515.43,201.35 519.31,201.37 520.60,201.37" fill="none" stroke="#111" stroke-width="1.9" stroke-linejoin="round" stroke-linecap="round" />
<path d="M303.60,202.01 C304.89,202.02 308.77,202.03 311.35,202.04 C313.93,202.04 316.52,202.05 319.10,202.06 C321.68,202.07 324.27,202.08 326.85,202.08 C329.43,202.09 332.02,202.10 334.60,202.11 C337.18,202.12 339.77,202.12 342.35,202.13 C344.93,202.14 347.52,202.15 350.10,202.16 C352.68,202.16 355.27,202.17 357.85,202.18 C360.43,202.19 363.02,202.20 365.60,202.20 C368.18,202.21 370.77,201.67 373.35,202.23 C375.93,202.78 378.52,204.54 381.10,205.53 C383.68,206.53 386.27,207.63 388.85,208.20 C391.43,208.77 394.02,208.75 396.60,208.95 C399.18,209.14 401.77,209.16 404.35,209.37 C406.93,209.59 409.52,210.12 412.10,210.23 C414.68,210.33 417.27,210.05 419.85,210.01 C422.43,209.98 425.02,210.01 427.60,210.01 C430.18,210.01 432.77,210.01 435.35,210.01 C437.93,210.01 440.52,210.01 443.10,210.01 C445.68,210.01 448.27,210.01 450.85,210.01 C453.43,210.01 456.02,210.01 458.60,210.01 C461.18,210.01 463.77,210.01 466.35,210.01 C468.93,210.01 471.52,210.16 474.10,210.01 C476.68,209.87 479.27,209.16 481.85,209.16 C484.43,209.16 487.02,209.87 489.60,210.01 C492.18,210.16 494.77,210.01 497.35,210.01 C499.93,210.01 502.52,210.01 505.10,210.01 C507.68,210.01 510.27,210.01 512.85,210.01 C515.43,210.01 519.31,210.01 520.60,210.01" fill="none" stroke="#10b810" stroke-width="1.9" stroke-linejoin="round" stroke-linecap="round" />
<path d="M303.60,205.21 C304.89,205.17 308.77,205.06 311.35,204.98 C313.93,204.90 316.52,204.82 319.10,204.74 C321.68,204.67 324.27,204.59 326.85,204.51 C329.43,204.43 332.02,204.35 334.60,204.27 C337.18,204.20 339.77,204.11 342.35,204.04 C344.93,203.97 347.52,203.93 350.10,203.88 C352.68,203.83 355.27,203.77 357.85,203.72 C360.43,203.67 363.02,203.61 365.60,203.56 C368.18,203.51 370.77,203.46 373.35,203.40 C375.93,203.34 378.52,202.76 381.10,203.19 C383.68,203.61 386.27,204.93 388.85,205.96 C391.43,206.99 394.02,208.38 396.60,209.37 C399.18,210.37 401.77,211.36 404.35,211.93 C406.93,212.50 409.52,212.72 412.10,212.79 C414.68,212.86 417.27,212.43 419.85,212.36 C422.43,212.29 425.02,212.36 427.60,212.36 C430.18,212.36 432.77,212.36 435.35,212.36 C437.93,212.36 440.52,212.29 443.10,212.36 C445.68,212.43 448.27,212.74 450.85,212.79 C453.43,212.83 456.02,212.69 458.60,212.64 C461.18,212.60 463.77,212.55 466.35,212.50 C468.93,212.45 471.52,212.38 474.10,212.36 C476.68,212.34 479.27,212.36 481.85,212.36 C484.43,212.36 487.02,212.36 489.60,212.36 C492.18,212.36 494.77,212.25 497.35,212.36 C499.93,212.47 502.52,212.95 505.10,213.00 C507.68,213.05 510.27,212.79 512.85,212.68 C515.43,212.57 519.31,212.41 520.60,212.36" fill="none" stroke="#f01414" stroke-width="1.9" stroke-linejoin="round" stroke-linecap="round" />
<line x1="301.80" y1="201.31" x2="305.40" y2="201.31" stroke="#111" stroke-width="1.1" />
<line x1="309.55" y1="201.34" x2="313.15" y2="201.34" stroke="#111" stroke-width="1.1" />
<line x1="317.30" y1="201.36" x2="320.90" y2="201.36" stroke="#111" stroke-width="1.1" />
<line x1="325.05" y1="201.38" x2="328.65" y2="201.38" stroke="#111" stroke-width="1.1" />
<line x1="332.80" y1="201.41" x2="336.40" y2="201.41" stroke="#111" stroke-width="1.1" />
<line x1="340.55" y1="201.43" x2="344.15" y2="201.43" stroke="#111" stroke-width="1.1" />
<line x1="348.30" y1="201.46" x2="351.90" y2="201.46" stroke="#111" stroke-width="1.1" />
<line x1="356.05" y1="201.48" x2="359.65" y2="201.48" stroke="#111" stroke-width="1.1" />
<line x1="363.80" y1="201.50" x2="367.40" y2="201.50" stroke="#111" stroke-width="1.1" />
<line x1="371.55" y1="201.53" x2="375.15" y2="201.53" stroke="#111" stroke-width="1.1" />
<line x1="379.30" y1="204.83" x2="382.90" y2="204.83" stroke="#111" stroke-width="1.1" />
<line x1="387.05" y1="207.50" x2="390.65" y2="207.50" stroke="#111" stroke-width="1.1" />
<line x1="394.80" y1="208.25" x2="398.40" y2="208.25" stroke="#111" stroke-width="1.1" />
<line x1="402.55" y1="208.67" x2="406.15" y2="208.67" stroke="#111" stroke-width="1.1" />
<line x1="410.30" y1="209.53" x2="413.90" y2="209.53" stroke="#111" stroke-width="1.1" />
<line x1="418.05" y1="209.31" x2="421.65" y2="209.31" stroke="#111" stroke-width="1.1" />
<line x1="425.80" y1="209.31" x2="429.40" y2="209.31" stroke="#111" stroke-width="1.1" />
<line x1="433.55" y1="209.31" x2="437.15" y2="209.31" stroke="#111" stroke-width="1.1" />
<line x1="441.30" y1="209.31" x2="444.90" y2="209.31" stroke="#111" stroke-width="1.1" />
<line x1="449.05" y1="209.31" x2="452.65" y2="209.31" stroke="#111" stroke-width="1.1" />
<line x1="456.80" y1="209.31" x2="460.40" y2="209.31" stroke="#111" stroke-width="1.1" />
<line x1="464.55" y1="209.31" x2="468.15" y2="209.31" stroke="#111" stroke-width="1.1" />
<line x1="472.30" y1="209.31" x2="475.90" y2="209.31" stroke="#111" stroke-width="1.1" />
<line x1="480.05" y1="208.46" x2="483.65" y2="208.46" stroke="#111" stroke-width="1.1" />
<line x1="487.80" y1="209.31" x2="491.40" y2="209.31" stroke="#111" stroke-width="1.1" />
<line x1="495.55" y1="209.31" x2="499.15" y2="209.31" stroke="#111" stroke-width="1.1" />
<line x1="503.30" y1="209.31" x2="506.90" y2="209.31" stroke="#111" stroke-width="1.1" />
<line x1="511.05" y1="209.31" x2="514.65" y2="209.31" stroke="#111" stroke-width="1.1" />
<line x1="518.80" y1="209.31" x2="522.40" y2="209.31" stroke="#111" stroke-width="1.1" />
<line x1="301.80" y1="205.31" x2="305.40" y2="205.31" stroke="#111" stroke-width="1.0" />
<line x1="309.55" y1="205.08" x2="313.15" y2="205.08" stroke="#111" stroke-width="1.0" />
<line x1="317.30" y1="204.84" x2="320.90" y2="204.84" stroke="#111" stroke-width="1.0" />
<line x1="325.05" y1="204.61" x2="328.65" y2="204.61" stroke="#111" stroke-width="1.0" />
<line x1="332.80" y1="204.37" x2="336.40" y2="204.37" stroke="#111" stroke-width="1.0" />
<line x1="340.55" y1="204.14" x2="344.15" y2="204.14" stroke="#111" stroke-width="1.0" />
<line x1="348.30" y1="203.98" x2="351.90" y2="203.98" stroke="#111" stroke-width="1.0" />
<line x1="356.05" y1="203.82" x2="359.65" y2="203.82" stroke="#111" stroke-width="1.0" />
<line x1="363.80" y1="203.66" x2="367.40" y2="203.66" stroke="#111" stroke-width="1.0" />
<line x1="371.55" y1="203.50" x2="375.15" y2="203.50" stroke="#111" stroke-width="1.0" />
<line x1="379.30" y1="203.29" x2="382.90" y2="203.29" stroke="#111" stroke-width="1.0" />
<line x1="387.05" y1="206.06" x2="390.65" y2="206.06" stroke="#111" stroke-width="1.0" />
<line x1="394.80" y1="209.47" x2="398.40" y2="209.47" stroke="#111" stroke-width="1.0" />
<line x1="402.55" y1="212.03" x2="406.15" y2="212.03" stroke="#111" stroke-width="1.0" />
<line x1="410.30" y1="212.89" x2="413.90" y2="212.89" stroke="#111" stroke-width="1.0" />
<line x1="418.05" y1="212.46" x2="421.65" y2="212.46" stroke="#111" stroke-width="1.0" />
<line x1="425.80" y1="212.46" x2="429.40" y2="212.46" stroke="#111" stroke-width="1.0" />
<line x1="433.55" y1="212.46" x2="437.15" y2="212.46" stroke="#111" stroke-width="1.0" />
<line x1="441.30" y1="212.46" x2="444.90" y2="212.46" stroke="#111" stroke-width="1.0" />
<line x1="449.05" y1="212.89" x2="452.65" y2="212.89" stroke="#111" stroke-width="1.0" />
<line x1="456.80" y1="212.74" x2="460.40" y2="212.74" stroke="#111" stroke-width="1.0" />
<line x1="464.55" y1="212.60" x2="468.15" y2="212.60" stroke="#111" stroke-width="1.0" />
<line x1="472.30" y1="212.46" x2="475.90" y2="212.46" stroke="#111" stroke-width="1.0" />
<line x1="480.05" y1="212.46" x2="483.65" y2="212.46" stroke="#111" stroke-width="1.0" />
<line x1="487.80" y1="212.46" x2="491.40" y2="212.46" stroke="#111" stroke-width="1.0" />
<line x1="495.55" y1="212.46" x2="499.15" y2="212.46" stroke="#111" stroke-width="1.0" />
<line x1="503.30" y1="213.10" x2="506.90" y2="213.10" stroke="#111" stroke-width="1.0" />
<line x1="511.05" y1="212.78" x2="514.65" y2="212.78" stroke="#111" stroke-width="1.0" />
<line x1="518.80" y1="212.46" x2="522.40" y2="212.46" stroke="#111" stroke-width="1.0" />
<line x1="303.60" y1="190.60" x2="303.60" y2="223.20" stroke="#111" stroke-width="1.2" />
<line x1="303.00" y1="222.60" x2="520.80" y2="222.60" stroke="#111" stroke-width="1.2" />
<line x1="301.00" y1="222.60" x2="303.60" y2="222.60" stroke="#111" stroke-width="1.0" />
<line x1="301.00" y1="211.93" x2="303.60" y2="211.93" stroke="#111" stroke-width="1.0" />
<line x1="301.00" y1="201.27" x2="303.60" y2="201.27" stroke="#111" stroke-width="1.0" />
<line x1="301.00" y1="190.60" x2="303.60" y2="190.60" stroke="#111" stroke-width="1.0" />
<line x1="311.35" y1="222.60" x2="311.35" y2="224.90" stroke="#111" stroke-width="1.0" />
<text x="311.35" y="231.80" font-size="5.9" font-weight="bold" text-anchor="middle" fill="#111" stroke="#111" stroke-width="0.22" >2</text>
<line x1="326.85" y1="222.60" x2="326.85" y2="224.90" stroke="#111" stroke-width="1.0" />
<text x="326.85" y="231.80" font-size="5.9" font-weight="bold" text-anchor="middle" fill="#111" stroke="#111" stroke-width="0.22" >4</text>
<line x1="342.35" y1="222.60" x2="342.35" y2="224.90" stroke="#111" stroke-width="1.0" />
<text x="342.35" y="231.80" font-size="5.9" font-weight="bold" text-anchor="middle" fill="#111" stroke="#111" stroke-width="0.22" >6</text>
<line x1="357.85" y1="222.60" x2="357.85" y2="224.90" stroke="#111" stroke-width="1.0" />
<text x="357.85" y="231.80" font-size="5.9" font-weight="bold" text-anchor="middle" fill="#111" stroke="#111" stroke-width="0.22" >8</text>
<line x1="373.35" y1="222.60" x2="373.35" y2="224.90" stroke="#111" stroke-width="1.0" />
<text x="373.35" y="231.80" font-size="5.9" font-weight="bold" text-anchor="middle" fill="#111" stroke="#111" stroke-width="0.22" >10</text>
<line x1="388.85" y1="222.60" x2="388.85" y2="224.90" stroke="#111" stroke-width="1.0" />
<text x="388.85" y="231.80" font-size="5.9" font-weight="bold" text-anchor="middle" fill="#111" stroke="#111" stroke-width="0.22" >12</text>
<line x1="404.35" y1="222.60" x2="404.35" y2="224.90" stroke="#111" stroke-width="1.0" />
<text x="404.35" y="231.80" font-size="5.9" font-weight="bold" text-anchor="middle" fill="#111" stroke="#111" stroke-width="0.22" >14</text>
<line x1="419.85" y1="222.60" x2="419.85" y2="224.90" stroke="#111" stroke-width="1.0" />
<text x="419.85" y="231.80" font-size="5.9" font-weight="bold" text-anchor="middle" fill="#111" stroke="#111" stroke-width="0.22" >16</text>
<line x1="435.35" y1="222.60" x2="435.35" y2="224.90" stroke="#111" stroke-width="1.0" />
<text x="435.35" y="231.80" font-size="5.9" font-weight="bold" text-anchor="middle" fill="#111" stroke="#111" stroke-width="0.22" >18</text>
<line x1="450.85" y1="222.60" x2="450.85" y2="224.90" stroke="#111" stroke-width="1.0" />
<text x="450.85" y="231.80" font-size="5.9" font-weight="bold" text-anchor="middle" fill="#111" stroke="#111" stroke-width="0.22" >20</text>
<line x1="466.35" y1="222.60" x2="466.35" y2="224.90" stroke="#111" stroke-width="1.0" />
<text x="466.35" y="231.80" font-size="5.9" font-weight="bold" text-anchor="middle" fill="#111" stroke="#111" stroke-width="0.22" >22</text>
<line x1="481.85" y1="222.60" x2="481.85" y2="224.90" stroke="#111" stroke-width="1.0" />
<text x="481.85" y="231.80" font-size="5.9" font-weight="bold" text-anchor="middle" fill="#111" stroke="#111" stroke-width="0.22" >24</text>
<line x1="497.35" y1="222.60" x2="497.35" y2="224.90" stroke="#111" stroke-width="1.0" />
<text x="497.35" y="231.80" font-size="5.9" font-weight="bold" text-anchor="middle" fill="#111" stroke="#111" stroke-width="0.22" >26</text>
<line x1="512.85" y1="222.60" x2="512.85" y2="224.90" stroke="#111" stroke-width="1.0" />
<text x="512.85" y="231.80" font-size="5.9" font-weight="bold" text-anchor="middle" fill="#111" stroke="#111" stroke-width="0.22" >28</text>
<text x="300.40" y="224.70" font-size="5.9" font-weight="bold" text-anchor="end" fill="#111" stroke="#111" stroke-width="0.22" >10</text>
<text x="300.40" y="214.03" font-size="5.9" font-weight="bold" text-anchor="end" fill="#111" stroke="#111" stroke-width="0.22" >15</text>
<text x="300.40" y="203.37" font-size="5.9" font-weight="bold" text-anchor="end" fill="#111" stroke="#111" stroke-width="0.22" >20</text>
<text x="300.40" y="192.70" font-size="5.9" font-weight="bold" text-anchor="end" fill="#111" stroke="#111" stroke-width="0.22" >25</text>
<line x1="483.80" y1="155.00" x2="492.70" y2="155.00" stroke="#111" stroke-width="1.7" />
<text x="498.00" y="157.20" font-size="6.7" font-weight="normal" text-anchor="start" fill="#222" stroke="#222" stroke-width="0.12" >Control</text>
<line x1="483.80" y1="165.80" x2="492.70" y2="165.80" stroke="#10b810" stroke-width="1.7" />
<text x="498.00" y="168.00" font-size="6.7" font-weight="normal" text-anchor="start" fill="#222" stroke="#222" stroke-width="0.12" >ABA_20%</text>
<line x1="483.80" y1="176.20" x2="492.70" y2="176.20" stroke="#f01414" stroke-width="1.7" />
<text x="498.00" y="178.40" font-size="6.7" font-weight="normal" text-anchor="start" fill="#222" stroke="#222" stroke-width="0.12" >ABA_25%</text>
<text x="337.30" y="174.50" font-size="6.9" font-weight="bold" text-anchor="middle" fill="#111" stroke="#111" stroke-width="0.22" >Phase of</text>
<text x="337.30" y="183.10" font-size="6.9" font-weight="bold" text-anchor="middle" fill="#111" stroke="#111" stroke-width="0.22" >acclimatisation</text>
<text x="398.90" y="174.80" font-size="6.9" font-weight="bold" text-anchor="middle" fill="#111" stroke="#111" stroke-width="0.22" >Acute starvation</text>
<text x="399.10" y="183.10" font-size="6.9" font-weight="bold" text-anchor="middle" fill="#111" stroke="#111" stroke-width="0.22" >phase</text>
<text x="475.40" y="183.10" font-size="6.9" font-weight="bold" text-anchor="middle" fill="#111" stroke="#111" stroke-width="0.22" >Chronic starvation phase</text>
<text x="403.40" y="191.80" font-size="9.0" font-weight="bold" text-anchor="middle" fill="#111" stroke="#111" stroke-width="0.22" >***</text>
<text x="401.20" y="198.00" font-size="10.0" font-weight="bold" text-anchor="middle" fill="#111" stroke="#111" stroke-width="0.22"  textLength="15.75" lengthAdjust="spacingAndGlyphs">###</text>
<text x="480.00" y="191.60" font-size="9.0" font-weight="bold" text-anchor="middle" fill="#111" stroke="#111" stroke-width="0.22" >***</text>
<text x="480.40" y="197.80" font-size="10.0" font-weight="bold" text-anchor="middle" fill="#111" stroke="#111" stroke-width="0.22"  textLength="15.75" lengthAdjust="spacingAndGlyphs">###</text>
<text x="22.60" y="206.60" font-size="6.9" font-weight="bold" text-anchor="middle" fill="#111" stroke="#111" stroke-width="0.22" transform="rotate(-90 22.60 206.60)">Body</text>
<text x="30.80" y="206.60" font-size="6.9" font-weight="bold" text-anchor="middle" fill="#111" stroke="#111" stroke-width="0.22" transform="rotate(-90 30.80 206.60)">weight [g]</text>
<text x="281.20" y="206.60" font-size="6.9" font-weight="bold" text-anchor="middle" fill="#111" stroke="#111" stroke-width="0.22" transform="rotate(-90 281.20 206.60)">Body</text>
<text x="289.60" y="206.30" font-size="6.9" font-weight="bold" text-anchor="middle" fill="#111" stroke="#111" stroke-width="0.22" transform="rotate(-90 289.60 206.30)">weight [g]</text>
<text x="153.40" y="242.20" font-size="6.9" font-weight="bold" text-anchor="middle" fill="#111" stroke="#111" stroke-width="0.22" >Days [d]</text>
<text x="411.90" y="242.00" font-size="6.9" font-weight="bold" text-anchor="middle" fill="#111" stroke="#111" stroke-width="0.22" >Days [d]</text>
<text x="8.30" y="248.30" font-size="9.6" font-weight="bold" text-anchor="start" fill="#111" stroke="#111" stroke-width="0.22" >D</text>
<line x1="44.60" y1="294.97" x2="259.40" y2="294.97" stroke="#555" stroke-width="0.7" stroke-dasharray="1 1.6"/>
<line x1="44.60" y1="288.63" x2="259.40" y2="288.63" stroke="#555" stroke-width="0.7" stroke-dasharray="1 1.6"/>
<line x1="44.60" y1="282.30" x2="259.40" y2="282.30" stroke="#555" stroke-width="0.7" stroke-dasharray="1 1.6"/>
<line x1="44.60" y1="275.97" x2="259.40" y2="275.97" stroke="#555" stroke-width="0.7" stroke-dasharray="1 1.6"/>
<line x1="44.60" y1="269.63" x2="259.40" y2="269.63" stroke="#555" stroke-width="0.7" stroke-dasharray="1 1.6"/>
<line x1="121.35" y1="263.30" x2="121.35" y2="301.30" stroke="#5a5aff" stroke-width="0.8" stroke-dasharray="1 1.4"/>
<line x1="159.72" y1="263.30" x2="159.72" y2="301.30" stroke="#5a5aff" stroke-width="0.8" stroke-dasharray="1 1.4"/>
<line x1="82.97" y1="284.71" x2="82.97" y2="281.91" stroke="#111" stroke-width="0.7" />
<line x1="81.57" y1="281.91" x2="84.38" y2="281.91" stroke="#111" stroke-width="1.0" />
<line x1="90.65" y1="284.20" x2="90.65" y2="281.50" stroke="#111" stroke-width="0.7" />
<line x1="89.25" y1="281.50" x2="92.05" y2="281.50" stroke="#111" stroke-width="1.0" />
<line x1="98.33" y1="282.81" x2="98.33" y2="279.81" stroke="#111" stroke-width="0.7" />
<line x1="96.92" y1="279.81" x2="99.73" y2="279.81" stroke="#111" stroke-width="1.0" />
<line x1="106.00" y1="283.06" x2="106.00" y2="280.86" stroke="#111" stroke-width="0.7" />
<line x1="104.60" y1="280.86" x2="107.40" y2="280.86" stroke="#111" stroke-width="1.0" />
<line x1="129.03" y1="283.57" x2="129.03" y2="279.17" stroke="#111" stroke-width="0.7" />
<line x1="127.62" y1="279.17" x2="130.43" y2="279.17" stroke="#111" stroke-width="1.0" />
<line x1="144.38" y1="271.03" x2="144.38" y2="266.63" stroke="#111" stroke-width="0.7" />
<line x1="142.97" y1="266.63" x2="145.78" y2="266.63" stroke="#111" stroke-width="1.0" />
<line x1="152.05" y1="271.03" x2="152.05" y2="266.03" stroke="#111" stroke-width="0.7" />
<line x1="150.65" y1="266.03" x2="153.45" y2="266.03" stroke="#111" stroke-width="1.0" />
<line x1="159.72" y1="276.35" x2="159.72" y2="271.35" stroke="#111" stroke-width="0.7" />
<line x1="158.32" y1="271.35" x2="161.12" y2="271.35" stroke="#111" stroke-width="1.0" />
<line x1="175.07" y1="279.64" x2="175.07" y2="275.04" stroke="#111" stroke-width="0.7" />
<line x1="173.67" y1="275.04" x2="176.47" y2="275.04" stroke="#111" stroke-width="1.0" />
<line x1="182.75" y1="280.27" x2="182.75" y2="276.37" stroke="#111" stroke-width="0.7" />
<line x1="181.35" y1="276.37" x2="184.15" y2="276.37" stroke="#111" stroke-width="1.0" />
<line x1="198.10" y1="279.64" x2="198.10" y2="274.64" stroke="#111" stroke-width="0.7" />
<line x1="196.70" y1="274.64" x2="199.50" y2="274.64" stroke="#111" stroke-width="1.0" />
<line x1="205.77" y1="277.23" x2="205.77" y2="272.93" stroke="#111" stroke-width="0.7" />
<line x1="204.37" y1="272.93" x2="207.17" y2="272.93" stroke="#111" stroke-width="1.0" />
<line x1="213.45" y1="275.71" x2="213.45" y2="271.31" stroke="#111" stroke-width="0.7" />
<line x1="212.05" y1="271.31" x2="214.85" y2="271.31" stroke="#111" stroke-width="1.0" />
<line x1="221.12" y1="277.49" x2="221.12" y2="274.29" stroke="#111" stroke-width="0.7" />
<line x1="219.72" y1="274.29" x2="222.53" y2="274.29" stroke="#111" stroke-width="1.0" />
<line x1="228.80" y1="273.18" x2="228.80" y2="269.88" stroke="#111" stroke-width="0.7" />
<line x1="227.40" y1="269.88" x2="230.20" y2="269.88" stroke="#111" stroke-width="1.0" />
<line x1="244.15" y1="281.41" x2="244.15" y2="277.51" stroke="#111" stroke-width="0.7" />
<line x1="242.75" y1="277.51" x2="245.55" y2="277.51" stroke="#111" stroke-width="1.0" />
<line x1="251.82" y1="273.69" x2="251.82" y2="270.39" stroke="#111" stroke-width="0.7" />
<line x1="250.42" y1="270.39" x2="253.22" y2="270.39" stroke="#111" stroke-width="1.0" />
<line x1="259.50" y1="273.69" x2="259.50" y2="269.89" stroke="#111" stroke-width="0.7" />
<line x1="258.10" y1="269.89" x2="260.90" y2="269.89" stroke="#111" stroke-width="1.0" />
<line x1="136.70" y1="276.35" x2="136.70" y2="274.25" stroke="#111" stroke-width="0.7" />
<line x1="135.30" y1="274.25" x2="138.10" y2="274.25" stroke="#111" stroke-width="1.0" />
<line x1="144.38" y1="279.26" x2="144.38" y2="277.06" stroke="#111" stroke-width="0.7" />
<line x1="142.97" y1="277.06" x2="145.78" y2="277.06" stroke="#111" stroke-width="1.0" />
<line x1="190.42" y1="276.35" x2="190.42" y2="275.15" stroke="#111" stroke-width="0.7" />
<line x1="189.02" y1="275.15" x2="191.82" y2="275.15" stroke="#111" stroke-width="1.0" />
<line x1="228.80" y1="282.55" x2="228.80" y2="280.35" stroke="#111" stroke-width="0.7" />
<line x1="227.40" y1="280.35" x2="230.20" y2="280.35" stroke="#111" stroke-width="1.0" />
<line x1="236.47" y1="280.78" x2="236.47" y2="279.18" stroke="#111" stroke-width="0.7" />
<line x1="235.07" y1="279.18" x2="237.88" y2="279.18" stroke="#111" stroke-width="1.0" />
<line x1="52.27" y1="291.80" x2="52.27" y2="290.50" stroke="#111" stroke-width="0.7" />
<line x1="50.88" y1="290.50" x2="53.67" y2="290.50" stroke="#111" stroke-width="1.0" />
<line x1="59.95" y1="289.77" x2="59.95" y2="288.47" stroke="#111" stroke-width="0.7" />
<line x1="58.55" y1="288.47" x2="61.35" y2="288.47" stroke="#111" stroke-width="1.0" />
<line x1="75.30" y1="286.86" x2="75.30" y2="285.36" stroke="#111" stroke-width="0.7" />
<line x1="73.90" y1="285.36" x2="76.70" y2="285.36" stroke="#111" stroke-width="1.0" />
<line x1="113.68" y1="286.35" x2="113.68" y2="284.35" stroke="#111" stroke-width="0.7" />
<line x1="112.28" y1="284.35" x2="115.08" y2="284.35" stroke="#111" stroke-width="1.0" />
<line x1="121.35" y1="285.09" x2="121.35" y2="283.69" stroke="#111" stroke-width="0.7" />
<line x1="119.95" y1="283.69" x2="122.75" y2="283.69" stroke="#111" stroke-width="1.0" />
<line x1="144.38" y1="285.21" x2="144.38" y2="283.61" stroke="#111" stroke-width="0.7" />
<line x1="142.97" y1="283.61" x2="145.78" y2="283.61" stroke="#111" stroke-width="1.0" />
<line x1="152.05" y1="286.86" x2="152.05" y2="284.36" stroke="#111" stroke-width="0.7" />
<line x1="150.65" y1="284.36" x2="153.45" y2="284.36" stroke="#111" stroke-width="1.0" />
<line x1="159.72" y1="288.76" x2="159.72" y2="285.76" stroke="#111" stroke-width="0.7" />
<line x1="158.32" y1="285.76" x2="161.12" y2="285.76" stroke="#111" stroke-width="1.0" />
<line x1="167.40" y1="286.86" x2="167.40" y2="283.46" stroke="#111" stroke-width="0.7" />
<line x1="166.00" y1="283.46" x2="168.80" y2="283.46" stroke="#111" stroke-width="1.0" />
<line x1="205.77" y1="286.35" x2="205.77" y2="284.15" stroke="#111" stroke-width="0.7" />
<line x1="204.37" y1="284.15" x2="207.17" y2="284.15" stroke="#111" stroke-width="1.0" />
<line x1="221.12" y1="285.85" x2="221.12" y2="283.65" stroke="#111" stroke-width="0.7" />
<line x1="219.72" y1="283.65" x2="222.53" y2="283.65" stroke="#111" stroke-width="1.0" />
<line x1="251.82" y1="283.57" x2="251.82" y2="282.37" stroke="#111" stroke-width="0.7" />
<line x1="250.42" y1="282.37" x2="253.22" y2="282.37" stroke="#111" stroke-width="1.0" />
<polyline points="44.60,295.47 52.27,294.08 59.95,291.80 67.62,291.80 75.30,288.76 82.97,284.71 90.65,284.20 98.33,282.81 106.00,283.06 113.68,290.66 121.35,286.35 129.03,283.57 136.70,280.27 144.38,271.03 152.05,271.03 159.72,276.35 167.40,286.35 175.07,279.64 182.75,280.27 190.42,287.37 198.10,279.64 205.77,277.23 213.45,275.71 221.12,277.49 228.80,273.18 236.47,285.85 244.15,281.41 251.82,273.69 259.50,273.69" fill="none" stroke="#10b810" stroke-width="1.8" stroke-linejoin="round" stroke-linecap="round" />
<circle cx="44.60" cy="295.47" r="1.0" fill="#10b810"/>
<circle cx="52.27" cy="294.08" r="1.0" fill="#10b810"/>
<circle cx="59.95" cy="291.80" r="1.0" fill="#10b810"/>
<circle cx="67.62" cy="291.80" r="1.0" fill="#10b810"/>
<circle cx="75.30" cy="288.76" r="1.0" fill="#10b810"/>
<circle cx="82.97" cy="284.71" r="1.0" fill="#10b810"/>
<circle cx="90.65" cy="284.20" r="1.0" fill="#10b810"/>
<circle cx="98.33" cy="282.81" r="1.0" fill="#10b810"/>
<circle cx="106.00" cy="283.06" r="1.0" fill="#10b810"/>
<circle cx="113.68" cy="290.66" r="1.0" fill="#10b810"/>
<circle cx="121.35" cy="286.35" r="1.0" fill="#10b810"/>
<circle cx="129.03" cy="283.57" r="1.0" fill="#10b810"/>
<circle cx="136.70" cy="280.27" r="1.0" fill="#10b810"/>
<circle cx="144.38" cy="271.03" r="1.0" fill="#10b810"/>
<circle cx="152.05" cy="271.03" r="1.0" fill="#10b810"/>
<circle cx="159.72" cy="276.35" r="1.0" fill="#10b810"/>
<circle cx="167.40" cy="286.35" r="1.0" fill="#10b810"/>
<circle cx="175.07" cy="279.64" r="1.0" fill="#10b810"/>
<circle cx="182.75" cy="280.27" r="1.0" fill="#10b810"/>
<circle cx="190.42" cy="287.37" r="1.0" fill="#10b810"/>
<circle cx="198.10" cy="279.64" r="1.0" fill="#10b810"/>
<circle cx="205.77" cy="277.23" r="1.0" fill="#10b810"/>
<circle cx="213.45" cy="275.71" r="1.0" fill="#10b810"/>
<circle cx="221.12" cy="277.49" r="1.0" fill="#10b810"/>
<circle cx="228.80" cy="273.18" r="1.0" fill="#10b810"/>
<circle cx="236.47" cy="285.85" r="1.0" fill="#10b810"/>
<circle cx="244.15" cy="281.41" r="1.0" fill="#10b810"/>
<circle cx="251.82" cy="273.69" r="1.0" fill="#10b810"/>
<circle cx="259.50" cy="273.69" r="1.0" fill="#10b810"/>
<polyline points="44.60,292.94 52.27,291.29 59.95,289.39 67.62,290.53 75.30,288.00 82.97,287.37 90.65,287.37 98.33,287.37 106.00,287.37 113.68,285.85 121.35,285.85 129.03,286.86 136.70,276.35 144.38,279.26 152.05,285.85 159.72,286.35 167.40,286.35 175.07,279.51 182.75,277.49 190.42,276.35 198.10,279.64 205.77,290.91 213.45,289.27 221.12,279.26 228.80,282.55 236.47,280.78 244.15,282.55 251.82,291.80 259.50,289.39" fill="none" stroke="#f01414" stroke-width="1.8" stroke-linejoin="round" stroke-linecap="round" />
<circle cx="44.60" cy="292.94" r="1.0" fill="#f01414"/>
<circle cx="52.27" cy="291.29" r="1.0" fill="#f01414"/>
<circle cx="59.95" cy="289.39" r="1.0" fill="#f01414"/>
<circle cx="67.62" cy="290.53" r="1.0" fill="#f01414"/>
<circle cx="75.30" cy="288.00" r="1.0" fill="#f01414"/>
<circle cx="82.97" cy="287.37" r="1.0" fill="#f01414"/>
<circle cx="90.65" cy="287.37" r="1.0" fill="#f01414"/>
<circle cx="98.33" cy="287.37" r="1.0" fill="#f01414"/>
<circle cx="106.00" cy="287.37" r="1.0" fill="#f01414"/>
<circle cx="113.68" cy="285.85" r="1.0" fill="#f01414"/>
<circle cx="121.35" cy="285.85" r="1.0" fill="#f01414"/>
<circle cx="129.03" cy="286.86" r="1.0" fill="#f01414"/>
<circle cx="136.70" cy="276.35" r="1.0" fill="#f01414"/>
<circle cx="144.38" cy="279.26" r="1.0" fill="#f01414"/>
<circle cx="152.05" cy="285.85" r="1.0" fill="#f01414"/>
<circle cx="159.72" cy="286.35" r="1.0" fill="#f01414"/>
<circle cx="167.40" cy="286.35" r="1.0" fill="#f01414"/>
<circle cx="175.07" cy="279.51" r="1.0" fill="#f01414"/>
<circle cx="182.75" cy="277.49" r="1.0" fill="#f01414"/>
<circle cx="190.42" cy="276.35" r="1.0" fill="#f01414"/>
<circle cx="198.10" cy="279.64" r="1.0" fill="#f01414"/>
<circle cx="205.77" cy="290.91" r="1.0" fill="#f01414"/>
<circle cx="213.45" cy="289.27" r="1.0" fill="#f01414"/>
<circle cx="221.12" cy="279.26" r="1.0" fill="#f01414"/>
<circle cx="228.80" cy="282.55" r="1.0" fill="#f01414"/>
<circle cx="236.47" cy="280.78" r="1.0" fill="#f01414"/>
<circle cx="244.15" cy="282.55" r="1.0" fill="#f01414"/>
<circle cx="251.82" cy="291.80" r="1.0" fill="#f01414"/>
<circle cx="259.50" cy="289.39" r="1.0" fill="#f01414"/>
<polyline points="44.60,294.21 52.27,291.80 59.95,289.77 67.62,290.15 75.30,286.86 82.97,286.35 90.65,285.85 98.33,285.59 106.00,285.85 113.68,286.35 121.35,285.09 129.03,288.00 136.70,286.86 144.38,285.21 152.05,286.86 159.72,288.76 167.40,286.86 175.07,285.34 182.75,285.34 190.42,287.37 198.10,286.86 205.77,286.35 213.45,286.35 221.12,285.85 228.80,286.35 236.47,290.15 244.15,286.35 251.82,283.57 259.50,291.29" fill="none" stroke="#111" stroke-width="1.6" stroke-linejoin="round" stroke-linecap="round" />
<circle cx="44.60" cy="294.21" r="1.0" fill="#111"/>
<circle cx="52.27" cy="291.80" r="1.0" fill="#111"/>
<circle cx="59.95" cy="289.77" r="1.0" fill="#111"/>
<circle cx="67.62" cy="290.15" r="1.0" fill="#111"/>
<circle cx="75.30" cy="286.86" r="1.0" fill="#111"/>
<circle cx="82.97" cy="286.35" r="1.0" fill="#111"/>
<circle cx="90.65" cy="285.85" r="1.0" fill="#111"/>
<circle cx="98.33" cy="285.59" r="1.0" fill="#111"/>
<circle cx="106.00" cy="285.85" r="1.0" fill="#111"/>
<circle cx="113.68" cy="286.35" r="1.0" fill="#111"/>
<circle cx="121.35" cy="285.09" r="1.0" fill="#111"/>
<circle cx="129.03" cy="288.00" r="1.0" fill="#111"/>
<circle cx="136.70" cy="286.86" r="1.0" fill="#111"/>
<circle cx="144.38" cy="285.21" r="1.0" fill="#111"/>
<circle cx="152.05" cy="286.86" r="1.0" fill="#111"/>
<circle cx="159.72" cy="288.76" r="1.0" fill="#111"/>
<circle cx="167.40" cy="286.86" r="1.0" fill="#111"/>
<circle cx="175.07" cy="285.34" r="1.0" fill="#111"/>
<circle cx="182.75" cy="285.34" r="1.0" fill="#111"/>
<circle cx="190.42" cy="287.37" r="1.0" fill="#111"/>
<circle cx="198.10" cy="286.86" r="1.0" fill="#111"/>
<circle cx="205.77" cy="286.35" r="1.0" fill="#111"/>
<circle cx="213.45" cy="286.35" r="1.0" fill="#111"/>
<circle cx="221.12" cy="285.85" r="1.0" fill="#111"/>
<circle cx="228.80" cy="286.35" r="1.0" fill="#111"/>
<circle cx="236.47" cy="290.15" r="1.0" fill="#111"/>
<circle cx="244.15" cy="286.35" r="1.0" fill="#111"/>
<circle cx="251.82" cy="283.57" r="1.0" fill="#111"/>
<circle cx="259.50" cy="291.29" r="1.0" fill="#111"/>
<line x1="44.60" y1="263.30" x2="44.60" y2="301.90" stroke="#111" stroke-width="1.2" />
<line x1="44.00" y1="301.30" x2="259.40" y2="301.30" stroke="#111" stroke-width="1.2" />
<line x1="42.00" y1="301.30" x2="44.60" y2="301.30" stroke="#111" stroke-width="1.0" />
<text x="41.60" y="303.30" font-size="5.8" font-weight="bold" text-anchor="end" fill="#111" stroke="#111" stroke-width="0.22" >0</text>
<line x1="42.00" y1="294.97" x2="44.60" y2="294.97" stroke="#111" stroke-width="1.0" />
<text x="41.60" y="296.97" font-size="5.8" font-weight="bold" text-anchor="end" fill="#111" stroke="#111" stroke-width="0.22" >50</text>
<line x1="42.00" y1="288.63" x2="44.60" y2="288.63" stroke="#111" stroke-width="1.0" />
<text x="41.60" y="290.63" font-size="5.8" font-weight="bold" text-anchor="end" fill="#111" stroke="#111" stroke-width="0.22" >100</text>
<line x1="42.00" y1="282.30" x2="44.60" y2="282.30" stroke="#111" stroke-width="1.0" />
<text x="41.60" y="284.30" font-size="5.8" font-weight="bold" text-anchor="end" fill="#111" stroke="#111" stroke-width="0.22" >150</text>
<line x1="42.00" y1="275.97" x2="44.60" y2="275.97" stroke="#111" stroke-width="1.0" />
<text x="41.60" y="277.97" font-size="5.8" font-weight="bold" text-anchor="end" fill="#111" stroke="#111" stroke-width="0.22" >200</text>
<line x1="42.00" y1="269.63" x2="44.60" y2="269.63" stroke="#111" stroke-width="1.0" />
<text x="41.60" y="271.63" font-size="5.8" font-weight="bold" text-anchor="end" fill="#111" stroke="#111" stroke-width="0.22" >250</text>
<line x1="42.00" y1="263.30" x2="44.60" y2="263.30" stroke="#111" stroke-width="1.0" />
<text x="41.60" y="265.30" font-size="5.8" font-weight="bold" text-anchor="end" fill="#111" stroke="#111" stroke-width="0.22" >300</text>
<line x1="52.27" y1="301.30" x2="52.27" y2="303.60" stroke="#111" stroke-width="1.0" />
<text x="52.27" y="310.20" font-size="5.9" font-weight="bold" text-anchor="middle" fill="#111" stroke="#111" stroke-width="0.22" >2</text>
<line x1="67.62" y1="301.30" x2="67.62" y2="303.60" stroke="#111" stroke-width="1.0" />
<text x="67.62" y="310.20" font-size="5.9" font-weight="bold" text-anchor="middle" fill="#111" stroke="#111" stroke-width="0.22" >4</text>
<line x1="82.97" y1="301.30" x2="82.97" y2="303.60" stroke="#111" stroke-width="1.0" />
<text x="82.97" y="310.20" font-size="5.9" font-weight="bold" text-anchor="middle" fill="#111" stroke="#111" stroke-width="0.22" >6</text>
<line x1="98.33" y1="301.30" x2="98.33" y2="303.60" stroke="#111" stroke-width="1.0" />
<text x="98.33" y="310.20" font-size="5.9" font-weight="bold" text-anchor="middle" fill="#111" stroke="#111" stroke-width="0.22" >8</text>
<line x1="113.68" y1="301.30" x2="113.68" y2="303.60" stroke="#111" stroke-width="1.0" />
<text x="113.68" y="310.20" font-size="5.9" font-weight="bold" text-anchor="middle" fill="#111" stroke="#111" stroke-width="0.22" >10</text>
<line x1="129.03" y1="301.30" x2="129.03" y2="303.60" stroke="#111" stroke-width="1.0" />
<text x="129.03" y="310.20" font-size="5.9" font-weight="bold" text-anchor="middle" fill="#111" stroke="#111" stroke-width="0.22" >12</text>
<line x1="144.38" y1="301.30" x2="144.38" y2="303.60" stroke="#111" stroke-width="1.0" />
<text x="144.38" y="310.20" font-size="5.9" font-weight="bold" text-anchor="middle" fill="#111" stroke="#111" stroke-width="0.22" >14</text>
<line x1="159.72" y1="301.30" x2="159.72" y2="303.60" stroke="#111" stroke-width="1.0" />
<text x="159.72" y="310.20" font-size="5.9" font-weight="bold" text-anchor="middle" fill="#111" stroke="#111" stroke-width="0.22" >16</text>
<line x1="175.07" y1="301.30" x2="175.07" y2="303.60" stroke="#111" stroke-width="1.0" />
<text x="175.07" y="310.20" font-size="5.9" font-weight="bold" text-anchor="middle" fill="#111" stroke="#111" stroke-width="0.22" >18</text>
<line x1="190.42" y1="301.30" x2="190.42" y2="303.60" stroke="#111" stroke-width="1.0" />
<text x="190.42" y="310.20" font-size="5.9" font-weight="bold" text-anchor="middle" fill="#111" stroke="#111" stroke-width="0.22" >20</text>
<line x1="205.77" y1="301.30" x2="205.77" y2="303.60" stroke="#111" stroke-width="1.0" />
<text x="205.77" y="310.20" font-size="5.9" font-weight="bold" text-anchor="middle" fill="#111" stroke="#111" stroke-width="0.22" >22</text>
<line x1="221.12" y1="301.30" x2="221.12" y2="303.60" stroke="#111" stroke-width="1.0" />
<text x="221.12" y="310.20" font-size="5.9" font-weight="bold" text-anchor="middle" fill="#111" stroke="#111" stroke-width="0.22" >24</text>
<line x1="236.47" y1="301.30" x2="236.47" y2="303.60" stroke="#111" stroke-width="1.0" />
<text x="236.47" y="310.20" font-size="5.9" font-weight="bold" text-anchor="middle" fill="#111" stroke="#111" stroke-width="0.22" >26</text>
<line x1="251.82" y1="301.30" x2="251.82" y2="303.60" stroke="#111" stroke-width="1.0" />
<text x="251.82" y="310.20" font-size="5.9" font-weight="bold" text-anchor="middle" fill="#111" stroke="#111" stroke-width="0.22" >28</text>
<line x1="302.30" y1="293.48" x2="509.30" y2="293.48" stroke="#555" stroke-width="0.7" stroke-dasharray="1 1.6"/>
<line x1="302.30" y1="287.47" x2="509.30" y2="287.47" stroke="#555" stroke-width="0.7" stroke-dasharray="1 1.6"/>
<line x1="302.30" y1="281.45" x2="509.30" y2="281.45" stroke="#555" stroke-width="0.7" stroke-dasharray="1 1.6"/>
<line x1="302.30" y1="275.43" x2="509.30" y2="275.43" stroke="#555" stroke-width="0.7" stroke-dasharray="1 1.6"/>
<line x1="302.30" y1="269.42" x2="509.30" y2="269.42" stroke="#555" stroke-width="0.7" stroke-dasharray="1 1.6"/>
<line x1="376.00" y1="263.40" x2="376.00" y2="299.50" stroke="#5a5aff" stroke-width="0.8" stroke-dasharray="1 1.4"/>
<line x1="412.85" y1="263.40" x2="412.85" y2="299.50" stroke="#5a5aff" stroke-width="0.8" stroke-dasharray="1 1.4"/>
<line x1="383.37" y1="283.01" x2="383.37" y2="281.71" stroke="#111" stroke-width="0.7" />
<line x1="381.97" y1="281.71" x2="384.77" y2="281.71" stroke="#111" stroke-width="1.0" />
<line x1="412.85" y1="282.17" x2="412.85" y2="279.97" stroke="#111" stroke-width="0.7" />
<line x1="411.45" y1="279.97" x2="414.25" y2="279.97" stroke="#111" stroke-width="1.0" />
<line x1="420.22" y1="285.42" x2="420.22" y2="284.42" stroke="#111" stroke-width="0.7" />
<line x1="418.82" y1="284.42" x2="421.62" y2="284.42" stroke="#111" stroke-width="1.0" />
<line x1="449.70" y1="281.69" x2="449.70" y2="280.59" stroke="#111" stroke-width="0.7" />
<line x1="448.30" y1="280.59" x2="451.10" y2="280.59" stroke="#111" stroke-width="1.0" />
<line x1="390.74" y1="278.56" x2="390.74" y2="277.26" stroke="#111" stroke-width="0.7" />
<line x1="389.34" y1="277.26" x2="392.14" y2="277.26" stroke="#111" stroke-width="1.0" />
<line x1="398.11" y1="280.49" x2="398.11" y2="279.19" stroke="#111" stroke-width="0.7" />
<line x1="396.71" y1="279.19" x2="399.51" y2="279.19" stroke="#111" stroke-width="1.0" />
<line x1="427.59" y1="280.01" x2="427.59" y2="278.91" stroke="#111" stroke-width="0.7" />
<line x1="426.19" y1="278.91" x2="428.99" y2="278.91" stroke="#111" stroke-width="1.0" />
<line x1="434.96" y1="280.01" x2="434.96" y2="279.21" stroke="#111" stroke-width="0.7" />
<line x1="433.56" y1="279.21" x2="436.36" y2="279.21" stroke="#111" stroke-width="1.0" />
<line x1="442.33" y1="278.44" x2="442.33" y2="276.04" stroke="#111" stroke-width="0.7" />
<line x1="440.93" y1="276.04" x2="443.73" y2="276.04" stroke="#111" stroke-width="1.0" />
<line x1="457.07" y1="283.38" x2="457.07" y2="281.68" stroke="#111" stroke-width="0.7" />
<line x1="455.67" y1="281.68" x2="458.47" y2="281.68" stroke="#111" stroke-width="1.0" />
<line x1="464.44" y1="284.94" x2="464.44" y2="283.34" stroke="#111" stroke-width="0.7" />
<line x1="463.04" y1="283.34" x2="465.84" y2="283.34" stroke="#111" stroke-width="1.0" />
<line x1="471.81" y1="281.69" x2="471.81" y2="279.49" stroke="#111" stroke-width="0.7" />
<line x1="470.41" y1="279.49" x2="473.21" y2="279.49" stroke="#111" stroke-width="1.0" />
<line x1="479.18" y1="280.49" x2="479.18" y2="278.89" stroke="#111" stroke-width="0.7" />
<line x1="477.78" y1="278.89" x2="480.58" y2="278.89" stroke="#111" stroke-width="1.0" />
<line x1="486.55" y1="283.86" x2="486.55" y2="281.66" stroke="#111" stroke-width="0.7" />
<line x1="485.15" y1="281.66" x2="487.95" y2="281.66" stroke="#111" stroke-width="1.0" />
<line x1="493.92" y1="284.94" x2="493.92" y2="282.74" stroke="#111" stroke-width="0.7" />
<line x1="492.52" y1="282.74" x2="495.32" y2="282.74" stroke="#111" stroke-width="1.0" />
<line x1="501.29" y1="285.42" x2="501.29" y2="284.42" stroke="#111" stroke-width="0.7" />
<line x1="499.89" y1="284.42" x2="502.69" y2="284.42" stroke="#111" stroke-width="1.0" />
<line x1="508.66" y1="285.42" x2="508.66" y2="283.82" stroke="#111" stroke-width="0.7" />
<line x1="507.26" y1="283.82" x2="510.06" y2="283.82" stroke="#111" stroke-width="1.0" />
<line x1="309.67" y1="288.67" x2="309.67" y2="286.67" stroke="#111" stroke-width="0.7" />
<line x1="308.27" y1="286.67" x2="311.07" y2="286.67" stroke="#111" stroke-width="1.0" />
<line x1="317.04" y1="288.43" x2="317.04" y2="286.93" stroke="#111" stroke-width="0.7" />
<line x1="315.64" y1="286.93" x2="318.44" y2="286.93" stroke="#111" stroke-width="1.0" />
<line x1="324.41" y1="288.07" x2="324.41" y2="286.57" stroke="#111" stroke-width="0.7" />
<line x1="323.01" y1="286.57" x2="325.81" y2="286.57" stroke="#111" stroke-width="1.0" />
<line x1="331.78" y1="287.47" x2="331.78" y2="285.97" stroke="#111" stroke-width="0.7" />
<line x1="330.38" y1="285.97" x2="333.18" y2="285.97" stroke="#111" stroke-width="1.0" />
<line x1="339.15" y1="284.46" x2="339.15" y2="281.96" stroke="#111" stroke-width="0.7" />
<line x1="337.75" y1="281.96" x2="340.55" y2="281.96" stroke="#111" stroke-width="1.0" />
<line x1="353.89" y1="285.30" x2="353.89" y2="283.80" stroke="#111" stroke-width="0.7" />
<line x1="352.49" y1="283.80" x2="355.29" y2="283.80" stroke="#111" stroke-width="1.0" />
<line x1="361.26" y1="285.90" x2="361.26" y2="284.40" stroke="#111" stroke-width="0.7" />
<line x1="359.86" y1="284.40" x2="362.66" y2="284.40" stroke="#111" stroke-width="1.0" />
<line x1="368.63" y1="285.30" x2="368.63" y2="283.80" stroke="#111" stroke-width="0.7" />
<line x1="367.23" y1="283.80" x2="370.03" y2="283.80" stroke="#111" stroke-width="1.0" />
<line x1="383.37" y1="286.87" x2="383.37" y2="285.37" stroke="#111" stroke-width="0.7" />
<line x1="381.97" y1="285.37" x2="384.77" y2="285.37" stroke="#111" stroke-width="1.0" />
<line x1="390.74" y1="284.94" x2="390.74" y2="283.44" stroke="#111" stroke-width="0.7" />
<line x1="389.34" y1="283.44" x2="392.14" y2="283.44" stroke="#111" stroke-width="1.0" />
<line x1="398.11" y1="284.94" x2="398.11" y2="283.44" stroke="#111" stroke-width="0.7" />
<line x1="396.71" y1="283.44" x2="399.51" y2="283.44" stroke="#111" stroke-width="1.0" />
<line x1="405.48" y1="286.87" x2="405.48" y2="284.87" stroke="#111" stroke-width="0.7" />
<line x1="404.08" y1="284.87" x2="406.88" y2="284.87" stroke="#111" stroke-width="1.0" />
<line x1="412.85" y1="286.62" x2="412.85" y2="285.12" stroke="#111" stroke-width="0.7" />
<line x1="411.45" y1="285.12" x2="414.25" y2="285.12" stroke="#111" stroke-width="1.0" />
<line x1="420.22" y1="286.62" x2="420.22" y2="285.02" stroke="#111" stroke-width="0.7" />
<line x1="418.82" y1="285.02" x2="421.62" y2="285.02" stroke="#111" stroke-width="1.0" />
<line x1="471.81" y1="286.62" x2="471.81" y2="285.52" stroke="#111" stroke-width="0.7" />
<line x1="470.41" y1="285.52" x2="473.21" y2="285.52" stroke="#111" stroke-width="1.0" />
<line x1="479.18" y1="285.42" x2="479.18" y2="284.42" stroke="#111" stroke-width="0.7" />
<line x1="477.78" y1="284.42" x2="480.58" y2="284.42" stroke="#111" stroke-width="1.0" />
<polyline points="302.30,290.11 309.67,289.51 317.04,289.03 324.41,288.31 331.78,286.87 339.15,286.50 346.52,285.42 353.89,285.42 361.26,286.14 368.63,285.30 376.00,284.82 383.37,283.01 390.74,280.49 398.11,283.01 405.48,291.92 412.85,282.17 420.22,285.42 427.59,285.42 434.96,283.86 442.33,282.77 449.70,281.69 457.07,287.71 464.44,288.07 471.81,287.35 479.18,286.62 486.55,290.72 493.92,285.90 501.29,286.62 508.66,287.11" fill="none" stroke="#10b810" stroke-width="1.8" stroke-linejoin="round" stroke-linecap="round" />
<circle cx="302.30" cy="290.11" r="1.0" fill="#10b810"/>
<circle cx="309.67" cy="289.51" r="1.0" fill="#10b810"/>
<circle cx="317.04" cy="289.03" r="1.0" fill="#10b810"/>
<circle cx="324.41" cy="288.31" r="1.0" fill="#10b810"/>
<circle cx="331.78" cy="286.87" r="1.0" fill="#10b810"/>
<circle cx="339.15" cy="286.50" r="1.0" fill="#10b810"/>
<circle cx="346.52" cy="285.42" r="1.0" fill="#10b810"/>
<circle cx="353.89" cy="285.42" r="1.0" fill="#10b810"/>
<circle cx="361.26" cy="286.14" r="1.0" fill="#10b810"/>
<circle cx="368.63" cy="285.30" r="1.0" fill="#10b810"/>
<circle cx="376.00" cy="284.82" r="1.0" fill="#10b810"/>
<circle cx="383.37" cy="283.01" r="1.0" fill="#10b810"/>
<circle cx="390.74" cy="280.49" r="1.0" fill="#10b810"/>
<circle cx="398.11" cy="283.01" r="1.0" fill="#10b810"/>
<circle cx="405.48" cy="291.92" r="1.0" fill="#10b810"/>
<circle cx="412.85" cy="282.17" r="1.0" fill="#10b810"/>
<circle cx="420.22" cy="285.42" r="1.0" fill="#10b810"/>
<circle cx="427.59" cy="285.42" r="1.0" fill="#10b810"/>
<circle cx="434.96" cy="283.86" r="1.0" fill="#10b810"/>
<circle cx="442.33" cy="282.77" r="1.0" fill="#10b810"/>
<circle cx="449.70" cy="281.69" r="1.0" fill="#10b810"/>
<circle cx="457.07" cy="287.71" r="1.0" fill="#10b810"/>
<circle cx="464.44" cy="288.07" r="1.0" fill="#10b810"/>
<circle cx="471.81" cy="287.35" r="1.0" fill="#10b810"/>
<circle cx="479.18" cy="286.62" r="1.0" fill="#10b810"/>
<circle cx="486.55" cy="290.72" r="1.0" fill="#10b810"/>
<circle cx="493.92" cy="285.90" r="1.0" fill="#10b810"/>
<circle cx="501.29" cy="286.62" r="1.0" fill="#10b810"/>
<circle cx="508.66" cy="287.11" r="1.0" fill="#10b810"/>
<polyline points="302.30,288.31 309.67,288.07 317.04,287.83 324.41,287.35 331.78,286.87 339.15,286.50 346.52,286.50 353.89,286.50 361.26,287.11 368.63,286.50 376.00,286.02 383.37,285.54 390.74,278.56 398.11,280.49 405.48,282.53 412.85,284.46 420.22,288.07 427.59,280.01 434.96,280.01 442.33,278.44 449.70,285.42 457.07,283.38 464.44,284.94 471.81,281.69 479.18,280.49 486.55,283.86 493.92,284.94 501.29,285.42 508.66,285.42" fill="none" stroke="#f01414" stroke-width="1.8" stroke-linejoin="round" stroke-linecap="round" />
<circle cx="302.30" cy="288.31" r="1.0" fill="#f01414"/>
<circle cx="309.67" cy="288.07" r="1.0" fill="#f01414"/>
<circle cx="317.04" cy="287.83" r="1.0" fill="#f01414"/>
<circle cx="324.41" cy="287.35" r="1.0" fill="#f01414"/>
<circle cx="331.78" cy="286.87" r="1.0" fill="#f01414"/>
<circle cx="339.15" cy="286.50" r="1.0" fill="#f01414"/>
<circle cx="346.52" cy="286.50" r="1.0" fill="#f01414"/>
<circle cx="353.89" cy="286.50" r="1.0" fill="#f01414"/>
<circle cx="361.26" cy="287.11" r="1.0" fill="#f01414"/>
<circle cx="368.63" cy="286.50" r="1.0" fill="#f01414"/>
<circle cx="376.00" cy="286.02" r="1.0" fill="#f01414"/>
<circle cx="383.37" cy="285.54" r="1.0" fill="#f01414"/>
<circle cx="390.74" cy="278.56" r="1.0" fill="#f01414"/>
<circle cx="398.11" cy="280.49" r="1.0" fill="#f01414"/>
<circle cx="405.48" cy="282.53" r="1.0" fill="#f01414"/>
<circle cx="412.85" cy="284.46" r="1.0" fill="#f01414"/>
<circle cx="420.22" cy="288.07" r="1.0" fill="#f01414"/>
<circle cx="427.59" cy="280.01" r="1.0" fill="#f01414"/>
<circle cx="434.96" cy="280.01" r="1.0" fill="#f01414"/>
<circle cx="442.33" cy="278.44" r="1.0" fill="#f01414"/>
<circle cx="449.70" cy="285.42" r="1.0" fill="#f01414"/>
<circle cx="457.07" cy="283.38" r="1.0" fill="#f01414"/>
<circle cx="464.44" cy="284.94" r="1.0" fill="#f01414"/>
<circle cx="471.81" cy="281.69" r="1.0" fill="#f01414"/>
<circle cx="479.18" cy="280.49" r="1.0" fill="#f01414"/>
<circle cx="486.55" cy="283.86" r="1.0" fill="#f01414"/>
<circle cx="493.92" cy="284.94" r="1.0" fill="#f01414"/>
<circle cx="501.29" cy="285.42" r="1.0" fill="#f01414"/>
<circle cx="508.66" cy="285.42" r="1.0" fill="#f01414"/>
<polyline points="302.30,289.39 309.67,288.67 317.04,288.43 324.41,288.07 331.78,287.47 339.15,284.46 346.52,285.90 353.89,285.30 361.26,285.90 368.63,285.30 376.00,285.54 383.37,286.87 390.74,284.94 398.11,284.94 405.48,286.87 412.85,286.62 420.22,286.62 427.59,288.07 434.96,286.62 442.33,284.94 449.70,287.71 457.07,288.31 464.44,288.31 471.81,286.62 479.18,285.42 486.55,288.07 493.92,287.71 501.29,287.71 508.66,290.11" fill="none" stroke="#111" stroke-width="1.6" stroke-linejoin="round" stroke-linecap="round" />
<circle cx="302.30" cy="289.39" r="1.0" fill="#111"/>
<circle cx="309.67" cy="288.67" r="1.0" fill="#111"/>
<circle cx="317.04" cy="288.43" r="1.0" fill="#111"/>
<circle cx="324.41" cy="288.07" r="1.0" fill="#111"/>
<circle cx="331.78" cy="287.47" r="1.0" fill="#111"/>
<circle cx="339.15" cy="284.46" r="1.0" fill="#111"/>
<circle cx="346.52" cy="285.90" r="1.0" fill="#111"/>
<circle cx="353.89" cy="285.30" r="1.0" fill="#111"/>
<circle cx="361.26" cy="285.90" r="1.0" fill="#111"/>
<circle cx="368.63" cy="285.30" r="1.0" fill="#111"/>
<circle cx="376.00" cy="285.54" r="1.0" fill="#111"/>
<circle cx="383.37" cy="286.87" r="1.0" fill="#111"/>
<circle cx="390.74" cy="284.94" r="1.0" fill="#111"/>
<circle cx="398.11" cy="284.94" r="1.0" fill="#111"/>
<circle cx="405.48" cy="286.87" r="1.0" fill="#111"/>
<circle cx="412.85" cy="286.62" r="1.0" fill="#111"/>
<circle cx="420.22" cy="286.62" r="1.0" fill="#111"/>
<circle cx="427.59" cy="288.07" r="1.0" fill="#111"/>
<circle cx="434.96" cy="286.62" r="1.0" fill="#111"/>
<circle cx="442.33" cy="284.94" r="1.0" fill="#111"/>
<circle cx="449.70" cy="287.71" r="1.0" fill="#111"/>
<circle cx="457.07" cy="288.31" r="1.0" fill="#111"/>
<circle cx="464.44" cy="288.31" r="1.0" fill="#111"/>
<circle cx="471.81" cy="286.62" r="1.0" fill="#111"/>
<circle cx="479.18" cy="285.42" r="1.0" fill="#111"/>
<circle cx="486.55" cy="288.07" r="1.0" fill="#111"/>
<circle cx="493.92" cy="287.71" r="1.0" fill="#111"/>
<circle cx="501.29" cy="287.71" r="1.0" fill="#111"/>
<circle cx="508.66" cy="290.11" r="1.0" fill="#111"/>
<line x1="302.30" y1="263.40" x2="302.30" y2="300.10" stroke="#111" stroke-width="1.2" />
<line x1="301.70" y1="299.50" x2="509.30" y2="299.50" stroke="#111" stroke-width="1.2" />
<line x1="299.70" y1="299.50" x2="302.30" y2="299.50" stroke="#111" stroke-width="1.0" />
<text x="299.30" y="301.50" font-size="5.8" font-weight="bold" text-anchor="end" fill="#111" stroke="#111" stroke-width="0.22" >0</text>
<line x1="299.70" y1="293.48" x2="302.30" y2="293.48" stroke="#111" stroke-width="1.0" />
<text x="299.30" y="295.48" font-size="5.8" font-weight="bold" text-anchor="end" fill="#111" stroke="#111" stroke-width="0.22" >50</text>
<line x1="299.70" y1="287.47" x2="302.30" y2="287.47" stroke="#111" stroke-width="1.0" />
<text x="299.30" y="289.47" font-size="5.8" font-weight="bold" text-anchor="end" fill="#111" stroke="#111" stroke-width="0.22" >100</text>
<line x1="299.70" y1="281.45" x2="302.30" y2="281.45" stroke="#111" stroke-width="1.0" />
<text x="299.30" y="283.45" font-size="5.8" font-weight="bold" text-anchor="end" fill="#111" stroke="#111" stroke-width="0.22" >150</text>
<line x1="299.70" y1="275.43" x2="302.30" y2="275.43" stroke="#111" stroke-width="1.0" />
<text x="299.30" y="277.43" font-size="5.8" font-weight="bold" text-anchor="end" fill="#111" stroke="#111" stroke-width="0.22" >200</text>
<line x1="299.70" y1="269.42" x2="302.30" y2="269.42" stroke="#111" stroke-width="1.0" />
<text x="299.30" y="271.42" font-size="5.8" font-weight="bold" text-anchor="end" fill="#111" stroke="#111" stroke-width="0.22" >250</text>
<line x1="299.70" y1="263.40" x2="302.30" y2="263.40" stroke="#111" stroke-width="1.0" />
<text x="299.30" y="265.40" font-size="5.8" font-weight="bold" text-anchor="end" fill="#111" stroke="#111" stroke-width="0.22" >300</text>
<line x1="309.67" y1="299.50" x2="309.67" y2="301.80" stroke="#111" stroke-width="1.0" />
<text x="309.67" y="308.40" font-size="5.9" font-weight="bold" text-anchor="middle" fill="#111" stroke="#111" stroke-width="0.22" >2</text>
<line x1="324.41" y1="299.50" x2="324.41" y2="301.80" stroke="#111" stroke-width="1.0" />
<text x="324.41" y="308.40" font-size="5.9" font-weight="bold" text-anchor="middle" fill="#111" stroke="#111" stroke-width="0.22" >4</text>
<line x1="339.15" y1="299.50" x2="339.15" y2="301.80" stroke="#111" stroke-width="1.0" />
<text x="339.15" y="308.40" font-size="5.9" font-weight="bold" text-anchor="middle" fill="#111" stroke="#111" stroke-width="0.22" >6</text>
<line x1="353.89" y1="299.50" x2="353.89" y2="301.80" stroke="#111" stroke-width="1.0" />
<text x="353.89" y="308.40" font-size="5.9" font-weight="bold" text-anchor="middle" fill="#111" stroke="#111" stroke-width="0.22" >8</text>
<line x1="368.63" y1="299.50" x2="368.63" y2="301.80" stroke="#111" stroke-width="1.0" />
<text x="368.63" y="308.40" font-size="5.9" font-weight="bold" text-anchor="middle" fill="#111" stroke="#111" stroke-width="0.22" >10</text>
<line x1="383.37" y1="299.50" x2="383.37" y2="301.80" stroke="#111" stroke-width="1.0" />
<text x="383.37" y="308.40" font-size="5.9" font-weight="bold" text-anchor="middle" fill="#111" stroke="#111" stroke-width="0.22" >12</text>
<line x1="398.11" y1="299.50" x2="398.11" y2="301.80" stroke="#111" stroke-width="1.0" />
<text x="398.11" y="308.40" font-size="5.9" font-weight="bold" text-anchor="middle" fill="#111" stroke="#111" stroke-width="0.22" >14</text>
<line x1="412.85" y1="299.50" x2="412.85" y2="301.80" stroke="#111" stroke-width="1.0" />
<text x="412.85" y="308.40" font-size="5.9" font-weight="bold" text-anchor="middle" fill="#111" stroke="#111" stroke-width="0.22" >16</text>
<line x1="427.59" y1="299.50" x2="427.59" y2="301.80" stroke="#111" stroke-width="1.0" />
<text x="427.59" y="308.40" font-size="5.9" font-weight="bold" text-anchor="middle" fill="#111" stroke="#111" stroke-width="0.22" >18</text>
<line x1="442.33" y1="299.50" x2="442.33" y2="301.80" stroke="#111" stroke-width="1.0" />
<text x="442.33" y="308.40" font-size="5.9" font-weight="bold" text-anchor="middle" fill="#111" stroke="#111" stroke-width="0.22" >20</text>
<line x1="457.07" y1="299.50" x2="457.07" y2="301.80" stroke="#111" stroke-width="1.0" />
<text x="457.07" y="308.40" font-size="5.9" font-weight="bold" text-anchor="middle" fill="#111" stroke="#111" stroke-width="0.22" >22</text>
<line x1="471.81" y1="299.50" x2="471.81" y2="301.80" stroke="#111" stroke-width="1.0" />
<text x="471.81" y="308.40" font-size="5.9" font-weight="bold" text-anchor="middle" fill="#111" stroke="#111" stroke-width="0.22" >24</text>
<line x1="486.55" y1="299.50" x2="486.55" y2="301.80" stroke="#111" stroke-width="1.0" />
<text x="486.55" y="308.40" font-size="5.9" font-weight="bold" text-anchor="middle" fill="#111" stroke="#111" stroke-width="0.22" >26</text>
<line x1="501.29" y1="299.50" x2="501.29" y2="301.80" stroke="#111" stroke-width="1.0" />
<text x="501.29" y="308.40" font-size="5.9" font-weight="bold" text-anchor="middle" fill="#111" stroke="#111" stroke-width="0.22" >28</text>
<text x="19.50" y="282.00" font-size="6.8" font-weight="normal" text-anchor="middle" fill="#1a1a1a" stroke="#1a1a1a" stroke-width="0.3" transform="rotate(-90 19.50 282.00)">Normalized</text>
<text x="27.50" y="281.90" font-size="6.8" font-weight="normal" text-anchor="middle" fill="#1a1a1a" stroke="#1a1a1a" stroke-width="0.3" transform="rotate(-90 27.50 281.90)">RWA [%]</text>
<text x="277.80" y="280.80" font-size="6.8" font-weight="normal" text-anchor="middle" fill="#1a1a1a" stroke="#1a1a1a" stroke-width="0.3" transform="rotate(-90 277.80 280.80)">Normalized</text>
<text x="285.40" y="281.00" font-size="6.8" font-weight="normal" text-anchor="middle" fill="#1a1a1a" stroke="#1a1a1a" stroke-width="0.3" transform="rotate(-90 285.40 281.00)">RWA [%]</text>
<text x="151.80" y="319.20" font-size="6.9" font-weight="bold" text-anchor="middle" fill="#111" stroke="#111" stroke-width="0.22" >Days [d]</text>
<text x="405.50" y="316.80" font-size="6.9" font-weight="bold" text-anchor="middle" fill="#111" stroke="#111" stroke-width="0.22" >Days [d]</text>
<text x="140.70" y="250.60" font-size="9.0" font-weight="bold" text-anchor="middle" fill="#111" stroke="#111" stroke-width="0.22" >*</text>
<text x="139.90" y="258.10" font-size="10.0" font-weight="bold" text-anchor="middle" fill="#111" stroke="#111" stroke-width="0.22" >#</text>
<text x="223.10" y="250.60" font-size="9.0" font-weight="bold" text-anchor="middle" fill="#111" stroke="#111" stroke-width="0.22" >**</text>
<text x="220.50" y="257.00" font-size="8.0" font-weight="normal" text-anchor="middle" fill="#222" stroke="#222" stroke-width="0.12" >p=0.06</text>
<text x="399.60" y="257.10" font-size="10.0" font-weight="bold" text-anchor="middle" fill="#111" stroke="#111" stroke-width="0.22" >#</text>
<text x="471.30" y="257.10" font-size="10.0" font-weight="bold" text-anchor="middle" fill="#111" stroke="#111" stroke-width="0.22"  textLength="10.50" lengthAdjust="spacingAndGlyphs">##</text>
<text x="8.30" y="328.30" font-size="9.6" font-weight="bold" text-anchor="start" fill="#111" stroke="#111" stroke-width="0.22" >E</text>
<line x1="45.20" y1="374.02" x2="259.00" y2="374.02" stroke="#555" stroke-width="0.7" stroke-dasharray="1 1.6"/>
<line x1="45.20" y1="365.84" x2="259.00" y2="365.84" stroke="#555" stroke-width="0.7" stroke-dasharray="1 1.6"/>
<line x1="45.20" y1="357.66" x2="259.00" y2="357.66" stroke="#555" stroke-width="0.7" stroke-dasharray="1 1.6"/>
<line x1="45.20" y1="349.48" x2="259.00" y2="349.48" stroke="#555" stroke-width="0.7" stroke-dasharray="1 1.6"/>
<line x1="45.20" y1="341.30" x2="259.00" y2="341.30" stroke="#555" stroke-width="0.7" stroke-dasharray="1 1.6"/>
<line x1="120.50" y1="341.30" x2="120.50" y2="382.20" stroke="#5a5aff" stroke-width="0.8" stroke-dasharray="1 1.4"/>
<line x1="164.00" y1="341.30" x2="164.00" y2="382.20" stroke="#5a5aff" stroke-width="0.8" stroke-dasharray="1 1.4"/>
<line x1="45.20" y1="341.30" x2="45.20" y2="382.80" stroke="#111" stroke-width="1.2" />
<line x1="44.60" y1="382.20" x2="259.00" y2="382.20" stroke="#111" stroke-width="1.2" />
<polyline points="64.20,353.57 89.15,341.30 114.10,341.30 139.05,357.66 164.00,374.02 188.95,369.93 213.90,361.75 238.85,382.20" fill="none" stroke="#10b810" stroke-width="1.9" stroke-linejoin="round" stroke-linecap="round" />
<circle cx="64.20" cy="353.57" r="1.4" fill="#10b810"/>
<circle cx="89.15" cy="341.30" r="1.4" fill="#10b810"/>
<circle cx="114.10" cy="341.30" r="1.4" fill="#10b810"/>
<circle cx="139.05" cy="357.66" r="1.4" fill="#10b810"/>
<circle cx="164.00" cy="374.02" r="1.4" fill="#10b810"/>
<circle cx="188.95" cy="369.93" r="1.4" fill="#10b810"/>
<circle cx="213.90" cy="361.75" r="1.4" fill="#10b810"/>
<circle cx="238.85" cy="382.20" r="1.4" fill="#10b810"/>
<polyline points="64.20,373.20 89.15,382.20 114.10,343.35 139.05,365.84 164.00,382.20 188.95,382.20 213.90,382.20 238.85,382.20" fill="none" stroke="#f01414" stroke-width="1.9" stroke-linejoin="round" stroke-linecap="round" />
<circle cx="64.20" cy="373.20" r="1.4" fill="#f01414"/>
<circle cx="89.15" cy="382.20" r="1.4" fill="#f01414"/>
<circle cx="114.10" cy="343.35" r="1.4" fill="#f01414"/>
<circle cx="139.05" cy="365.84" r="1.4" fill="#f01414"/>
<circle cx="164.00" cy="382.20" r="1.4" fill="#f01414"/>
<circle cx="188.95" cy="382.20" r="1.4" fill="#f01414"/>
<circle cx="213.90" cy="382.20" r="1.4" fill="#f01414"/>
<circle cx="238.85" cy="382.20" r="1.4" fill="#f01414"/>
<polyline points="64.20,365.84 89.15,357.66 114.10,345.39 139.05,349.48 164.00,345.39 188.95,341.30 213.90,345.39 238.85,345.39" fill="none" stroke="#111" stroke-width="1.9" stroke-linejoin="round" stroke-linecap="round" />
<circle cx="64.20" cy="365.84" r="1.4" fill="#111"/>
<circle cx="89.15" cy="357.66" r="1.4" fill="#111"/>
<circle cx="114.10" cy="345.39" r="1.4" fill="#111"/>
<circle cx="139.05" cy="349.48" r="1.4" fill="#111"/>
<circle cx="164.00" cy="345.39" r="1.4" fill="#111"/>
<circle cx="188.95" cy="341.30" r="1.4" fill="#111"/>
<circle cx="213.90" cy="345.39" r="1.4" fill="#111"/>
<circle cx="238.85" cy="345.39" r="1.4" fill="#111"/>
<line x1="42.60" y1="382.20" x2="45.20" y2="382.20" stroke="#111" stroke-width="1.0" />
<text x="42.30" y="384.40" font-size="6.2" font-weight="bold" text-anchor="end" fill="#111" stroke="#111" stroke-width="0.22" >0</text>
<line x1="42.60" y1="374.02" x2="45.20" y2="374.02" stroke="#111" stroke-width="1.0" />
<text x="42.30" y="376.22" font-size="6.2" font-weight="bold" text-anchor="end" fill="#111" stroke="#111" stroke-width="0.22" >20</text>
<line x1="42.60" y1="365.84" x2="45.20" y2="365.84" stroke="#111" stroke-width="1.0" />
<text x="42.30" y="368.04" font-size="6.2" font-weight="bold" text-anchor="end" fill="#111" stroke="#111" stroke-width="0.22" >40</text>
<line x1="42.60" y1="357.66" x2="45.20" y2="357.66" stroke="#111" stroke-width="1.0" />
<text x="42.30" y="359.86" font-size="6.2" font-weight="bold" text-anchor="end" fill="#111" stroke="#111" stroke-width="0.22" >60</text>
<line x1="42.60" y1="349.48" x2="45.20" y2="349.48" stroke="#111" stroke-width="1.0" />
<text x="42.30" y="351.68" font-size="6.2" font-weight="bold" text-anchor="end" fill="#111" stroke="#111" stroke-width="0.22" >80</text>
<line x1="42.60" y1="341.30" x2="45.20" y2="341.30" stroke="#111" stroke-width="1.0" />
<text x="42.30" y="343.50" font-size="6.2" font-weight="bold" text-anchor="end" fill="#111" stroke="#111" stroke-width="0.22" >100</text>
<line x1="64.20" y1="382.20" x2="64.20" y2="384.50" stroke="#111" stroke-width="1.0" />
<text x="64.20" y="392.80" font-size="6.3" font-weight="bold" text-anchor="middle" fill="#111" stroke="#111" stroke-width="0.22" >1st</text>
<line x1="89.15" y1="382.20" x2="89.15" y2="384.50" stroke="#111" stroke-width="1.0" />
<text x="89.15" y="392.80" font-size="6.3" font-weight="bold" text-anchor="middle" fill="#111" stroke="#111" stroke-width="0.22" >2nd</text>
<line x1="114.10" y1="382.20" x2="114.10" y2="384.50" stroke="#111" stroke-width="1.0" />
<text x="114.10" y="392.80" font-size="6.3" font-weight="bold" text-anchor="middle" fill="#111" stroke="#111" stroke-width="0.22" >3rd</text>
<line x1="139.05" y1="382.20" x2="139.05" y2="384.50" stroke="#111" stroke-width="1.0" />
<text x="139.05" y="392.80" font-size="6.3" font-weight="bold" text-anchor="middle" fill="#111" stroke="#111" stroke-width="0.22" >4th</text>
<line x1="164.00" y1="382.20" x2="164.00" y2="384.50" stroke="#111" stroke-width="1.0" />
<text x="164.00" y="392.80" font-size="6.3" font-weight="bold" text-anchor="middle" fill="#111" stroke="#111" stroke-width="0.22" >5th</text>
<line x1="188.95" y1="382.20" x2="188.95" y2="384.50" stroke="#111" stroke-width="1.0" />
<text x="188.95" y="392.80" font-size="6.3" font-weight="bold" text-anchor="middle" fill="#111" stroke="#111" stroke-width="0.22" >6th</text>
<line x1="213.90" y1="382.20" x2="213.90" y2="384.50" stroke="#111" stroke-width="1.0" />
<text x="213.90" y="392.80" font-size="6.3" font-weight="bold" text-anchor="middle" fill="#111" stroke="#111" stroke-width="0.22" >7th</text>
<line x1="238.85" y1="382.20" x2="238.85" y2="384.50" stroke="#111" stroke-width="1.0" />
<text x="238.85" y="392.80" font-size="6.3" font-weight="bold" text-anchor="middle" fill="#111" stroke="#111" stroke-width="0.22" >8th</text>
<text x="87.50" y="330.80" font-size="9.0" font-weight="bold" text-anchor="middle" fill="#111" stroke="#111" stroke-width="0.22" >*</text>
<text x="87.90" y="338.10" font-size="10.0" font-weight="bold" text-anchor="middle" fill="#111" stroke="#111" stroke-width="0.22"  textLength="10.50" lengthAdjust="spacingAndGlyphs">##</text>
<text x="162.20" y="330.80" font-size="9.0" font-weight="bold" text-anchor="middle" fill="#111" stroke="#111" stroke-width="0.22" >**</text>
<text x="163.60" y="338.10" font-size="10.0" font-weight="bold" text-anchor="middle" fill="#111" stroke="#111" stroke-width="0.22"  textLength="15.75" lengthAdjust="spacingAndGlyphs">###</text>
<text x="189.70" y="330.80" font-size="9.0" font-weight="bold" text-anchor="middle" fill="#111" stroke="#111" stroke-width="0.22" >***</text>
<text x="189.40" y="338.10" font-size="10.0" font-weight="bold" text-anchor="middle" fill="#111" stroke="#111" stroke-width="0.22"  textLength="15.75" lengthAdjust="spacingAndGlyphs">###</text>
<text x="215.60" y="338.10" font-size="10.0" font-weight="bold" text-anchor="middle" fill="#111" stroke="#111" stroke-width="0.22"  textLength="15.75" lengthAdjust="spacingAndGlyphs">###</text>
<text x="242.10" y="330.80" font-size="9.0" font-weight="bold" text-anchor="middle" fill="#111" stroke="#111" stroke-width="0.22" >***</text>
<text x="245.50" y="338.10" font-size="10.0" font-weight="bold" text-anchor="middle" fill="#111" stroke="#111" stroke-width="0.22"  textLength="10.50" lengthAdjust="spacingAndGlyphs">##</text>
<line x1="302.90" y1="374.30" x2="516.10" y2="374.30" stroke="#555" stroke-width="0.7" stroke-dasharray="1 1.6"/>
<line x1="302.90" y1="366.10" x2="516.10" y2="366.10" stroke="#555" stroke-width="0.7" stroke-dasharray="1 1.6"/>
<line x1="302.90" y1="357.90" x2="516.10" y2="357.90" stroke="#555" stroke-width="0.7" stroke-dasharray="1 1.6"/>
<line x1="302.90" y1="349.70" x2="516.10" y2="349.70" stroke="#555" stroke-width="0.7" stroke-dasharray="1 1.6"/>
<line x1="302.90" y1="341.50" x2="516.10" y2="341.50" stroke="#555" stroke-width="0.7" stroke-dasharray="1 1.6"/>
<line x1="378.20" y1="341.50" x2="378.20" y2="382.50" stroke="#5a5aff" stroke-width="0.8" stroke-dasharray="1 1.4"/>
<line x1="422.44" y1="341.50" x2="422.44" y2="382.50" stroke="#5a5aff" stroke-width="0.8" stroke-dasharray="1 1.4"/>
<line x1="302.90" y1="341.50" x2="302.90" y2="383.10" stroke="#111" stroke-width="1.2" />
<line x1="302.30" y1="382.50" x2="516.10" y2="382.50" stroke="#111" stroke-width="1.2" />
<polyline points="322.20,353.80 347.26,353.80 372.32,357.90 397.38,378.40 422.44,382.50 447.50,382.50 472.56,382.50 497.62,382.50" fill="none" stroke="#f01414" stroke-width="1.9" stroke-linejoin="round" stroke-linecap="round" />
<circle cx="322.20" cy="353.80" r="1.4" fill="#f01414"/>
<circle cx="347.26" cy="353.80" r="1.4" fill="#f01414"/>
<circle cx="372.32" cy="357.90" r="1.4" fill="#f01414"/>
<circle cx="397.38" cy="378.40" r="1.4" fill="#f01414"/>
<circle cx="422.44" cy="382.50" r="1.4" fill="#f01414"/>
<circle cx="447.50" cy="382.50" r="1.4" fill="#f01414"/>
<circle cx="472.56" cy="382.50" r="1.4" fill="#f01414"/>
<circle cx="497.62" cy="382.50" r="1.4" fill="#f01414"/>
<polyline points="322.20,346.42 347.26,341.50 372.32,346.42 397.38,362.00 422.44,382.50 447.50,382.50 472.56,382.50 497.62,382.50" fill="none" stroke="#10b810" stroke-width="1.9" stroke-linejoin="round" stroke-linecap="round" />
<circle cx="322.20" cy="346.42" r="1.4" fill="#10b810"/>
<circle cx="347.26" cy="341.50" r="1.4" fill="#10b810"/>
<circle cx="372.32" cy="346.42" r="1.4" fill="#10b810"/>
<circle cx="397.38" cy="362.00" r="1.4" fill="#10b810"/>
<circle cx="422.44" cy="382.50" r="1.4" fill="#10b810"/>
<circle cx="447.50" cy="382.50" r="1.4" fill="#10b810"/>
<circle cx="472.56" cy="382.50" r="1.4" fill="#10b810"/>
<circle cx="497.62" cy="382.50" r="1.4" fill="#10b810"/>
<polyline points="322.20,353.80 347.26,353.80 372.32,353.80 397.38,341.50 422.44,345.60 447.50,357.90 472.56,349.70 497.62,349.70" fill="none" stroke="#111" stroke-width="1.9" stroke-linejoin="round" stroke-linecap="round" />
<circle cx="322.20" cy="353.80" r="1.4" fill="#111"/>
<circle cx="347.26" cy="353.80" r="1.4" fill="#111"/>
<circle cx="372.32" cy="353.80" r="1.4" fill="#111"/>
<circle cx="397.38" cy="341.50" r="1.4" fill="#111"/>
<circle cx="422.44" cy="345.60" r="1.4" fill="#111"/>
<circle cx="447.50" cy="357.90" r="1.4" fill="#111"/>
<circle cx="472.56" cy="349.70" r="1.4" fill="#111"/>
<circle cx="497.62" cy="349.70" r="1.4" fill="#111"/>
<line x1="300.30" y1="382.50" x2="302.90" y2="382.50" stroke="#111" stroke-width="1.0" />
<text x="300.00" y="384.70" font-size="6.2" font-weight="bold" text-anchor="end" fill="#111" stroke="#111" stroke-width="0.22" >0</text>
<line x1="300.30" y1="374.30" x2="302.90" y2="374.30" stroke="#111" stroke-width="1.0" />
<text x="300.00" y="376.50" font-size="6.2" font-weight="bold" text-anchor="end" fill="#111" stroke="#111" stroke-width="0.22" >20</text>
<line x1="300.30" y1="366.10" x2="302.90" y2="366.10" stroke="#111" stroke-width="1.0" />
<text x="300.00" y="368.30" font-size="6.2" font-weight="bold" text-anchor="end" fill="#111" stroke="#111" stroke-width="0.22" >40</text>
<line x1="300.30" y1="357.90" x2="302.90" y2="357.90" stroke="#111" stroke-width="1.0" />
<text x="300.00" y="360.10" font-size="6.2" font-weight="bold" text-anchor="end" fill="#111" stroke="#111" stroke-width="0.22" >60</text>
<line x1="300.30" y1="349.70" x2="302.90" y2="349.70" stroke="#111" stroke-width="1.0" />
<text x="300.00" y="351.90" font-size="6.2" font-weight="bold" text-anchor="end" fill="#111" stroke="#111" stroke-width="0.22" >80</text>
<line x1="300.30" y1="341.50" x2="302.90" y2="341.50" stroke="#111" stroke-width="1.0" />
<text x="300.00" y="343.70" font-size="6.2" font-weight="bold" text-anchor="end" fill="#111" stroke="#111" stroke-width="0.22" >100</text>
<line x1="322.20" y1="382.50" x2="322.20" y2="384.80" stroke="#111" stroke-width="1.0" />
<text x="322.20" y="393.10" font-size="6.3" font-weight="bold" text-anchor="middle" fill="#111" stroke="#111" stroke-width="0.22" >1st</text>
<line x1="347.26" y1="382.50" x2="347.26" y2="384.80" stroke="#111" stroke-width="1.0" />
<text x="347.26" y="393.10" font-size="6.3" font-weight="bold" text-anchor="middle" fill="#111" stroke="#111" stroke-width="0.22" >2nd</text>
<line x1="372.32" y1="382.50" x2="372.32" y2="384.80" stroke="#111" stroke-width="1.0" />
<text x="372.32" y="393.10" font-size="6.3" font-weight="bold" text-anchor="middle" fill="#111" stroke="#111" stroke-width="0.22" >3rd</text>
<line x1="397.38" y1="382.50" x2="397.38" y2="384.80" stroke="#111" stroke-width="1.0" />
<text x="397.38" y="393.10" font-size="6.3" font-weight="bold" text-anchor="middle" fill="#111" stroke="#111" stroke-width="0.22" >4th</text>
<line x1="422.44" y1="382.50" x2="422.44" y2="384.80" stroke="#111" stroke-width="1.0" />
<text x="422.44" y="393.10" font-size="6.3" font-weight="bold" text-anchor="middle" fill="#111" stroke="#111" stroke-width="0.22" >5th</text>
<line x1="447.50" y1="382.50" x2="447.50" y2="384.80" stroke="#111" stroke-width="1.0" />
<text x="447.50" y="393.10" font-size="6.3" font-weight="bold" text-anchor="middle" fill="#111" stroke="#111" stroke-width="0.22" >6th</text>
<line x1="472.56" y1="382.50" x2="472.56" y2="384.80" stroke="#111" stroke-width="1.0" />
<text x="472.56" y="393.10" font-size="6.3" font-weight="bold" text-anchor="middle" fill="#111" stroke="#111" stroke-width="0.22" >7th</text>
<line x1="497.62" y1="382.50" x2="497.62" y2="384.80" stroke="#111" stroke-width="1.0" />
<text x="497.62" y="393.10" font-size="6.3" font-weight="bold" text-anchor="middle" fill="#111" stroke="#111" stroke-width="0.22" >8th</text>
<text x="399.00" y="330.80" font-size="9.0" font-weight="bold" text-anchor="middle" fill="#111" stroke="#111" stroke-width="0.22" >*</text>
<text x="394.60" y="338.20" font-size="10.0" font-weight="bold" text-anchor="middle" fill="#111" stroke="#111" stroke-width="0.22"  textLength="15.75" lengthAdjust="spacingAndGlyphs">###</text>
<text x="423.90" y="330.80" font-size="9.0" font-weight="bold" text-anchor="middle" fill="#111" stroke="#111" stroke-width="0.22" >***</text>
<text x="423.50" y="338.20" font-size="10.0" font-weight="bold" text-anchor="middle" fill="#111" stroke="#111" stroke-width="0.22"  textLength="15.75" lengthAdjust="spacingAndGlyphs">###</text>
<text x="450.80" y="330.80" font-size="9.0" font-weight="bold" text-anchor="middle" fill="#111" stroke="#111" stroke-width="0.22" >**</text>
<text x="453.30" y="338.20" font-size="10.0" font-weight="bold" text-anchor="middle" fill="#111" stroke="#111" stroke-width="0.22"  textLength="10.50" lengthAdjust="spacingAndGlyphs">##</text>
<text x="477.50" y="330.80" font-size="9.0" font-weight="bold" text-anchor="middle" fill="#111" stroke="#111" stroke-width="0.22" >***</text>
<text x="478.30" y="338.20" font-size="10.0" font-weight="bold" text-anchor="middle" fill="#111" stroke="#111" stroke-width="0.22"  textLength="15.75" lengthAdjust="spacingAndGlyphs">###</text>
<text x="503.80" y="330.80" font-size="9.0" font-weight="bold" text-anchor="middle" fill="#111" stroke="#111" stroke-width="0.22" >***</text>
<text x="504.40" y="338.20" font-size="10.0" font-weight="bold" text-anchor="middle" fill="#111" stroke="#111" stroke-width="0.22"  textLength="15.75" lengthAdjust="spacingAndGlyphs">###</text>
<text x="19.40" y="362.00" font-size="6.9" font-weight="bold" text-anchor="middle" fill="#111" stroke="#111" stroke-width="0.22" transform="rotate(-90 19.40 362.00)">Incidence of</text>
<text x="27.80" y="361.20" font-size="6.9" font-weight="bold" text-anchor="middle" fill="#111" stroke="#111" stroke-width="0.22" transform="rotate(-90 27.80 361.20)">estrous cycle [%]</text>
<text x="277.20" y="361.60" font-size="6.9" font-weight="bold" text-anchor="middle" fill="#111" stroke="#111" stroke-width="0.22" transform="rotate(-90 277.20 361.60)">Incidence of</text>
<text x="285.30" y="362.20" font-size="6.9" font-weight="bold" text-anchor="middle" fill="#111" stroke="#111" stroke-width="0.22" transform="rotate(-90 285.30 362.20)">estrous cycle [%]</text>
<text x="152.20" y="403.20" font-size="6.9" font-weight="bold" text-anchor="middle" fill="#111" stroke="#111" stroke-width="0.22" >4-days block</text>
<text x="409.60" y="403.00" font-size="6.9" font-weight="bold" text-anchor="middle" fill="#111" stroke="#111" stroke-width="0.22" >4-days block</text>
</svg>
</body></html>
